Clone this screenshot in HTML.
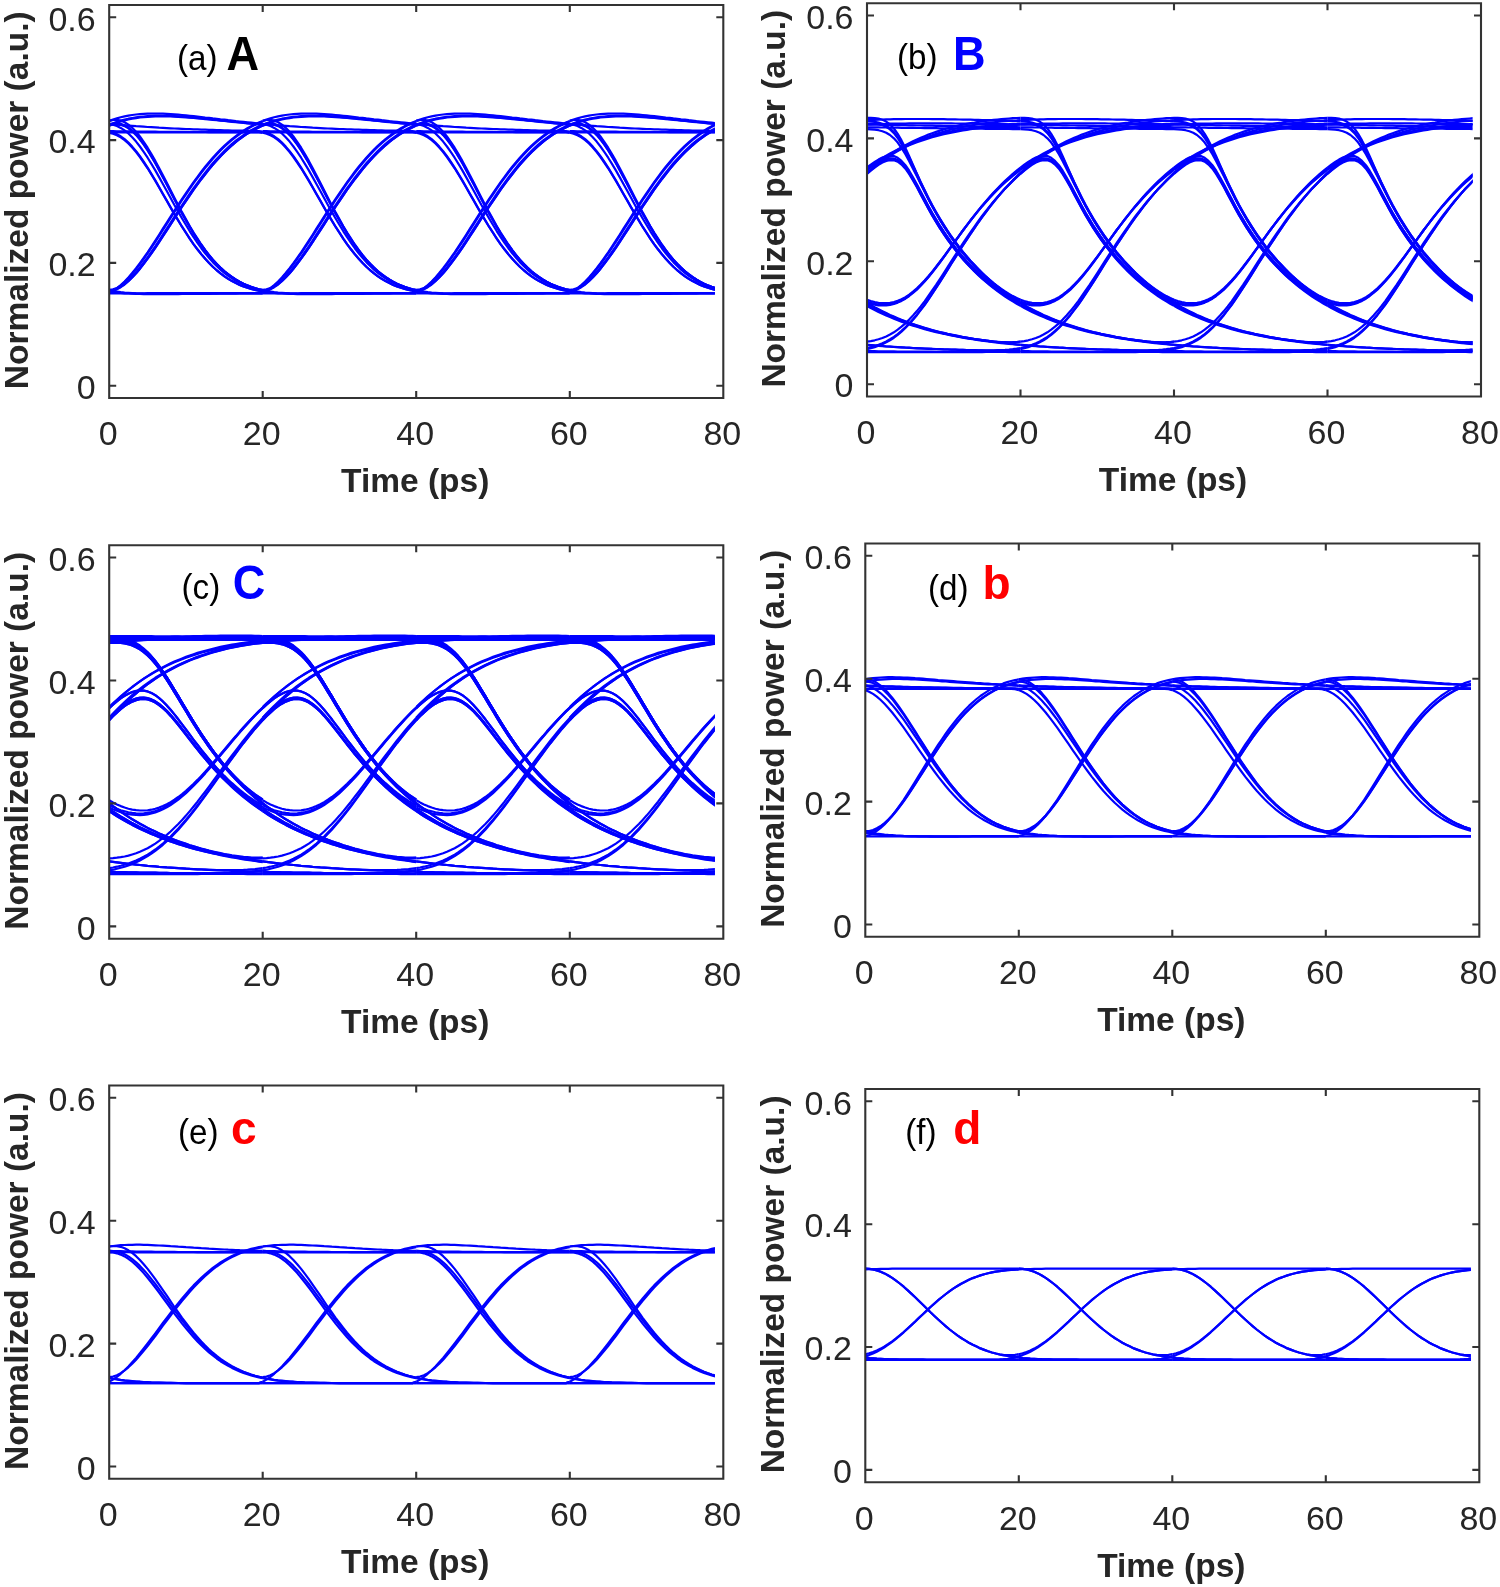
<!DOCTYPE html><html><head><meta charset="utf-8"><style>html,body{margin:0;padding:0;background:#fff;}svg{display:block;will-change:transform}text{font-family:"Liberation Sans",sans-serif}</style></head><body>
<svg width="1500" height="1587" viewBox="0 0 1500 1587">
<rect width="1500" height="1587" fill="#fff"/>
<defs><g id="seg_a"><path d="M0.0,132.8 3.8,133.7 7.7,135.3 11.5,137.4 15.4,140.2 19.2,143.5 23.0,147.5 26.9,152.0 30.7,157.0 34.5,162.5 38.4,168.3 42.2,174.5 46.1,180.9 49.9,187.5 53.7,194.2 57.6,200.9 61.4,207.6 65.2,214.2 69.1,220.7 72.9,227.0 76.8,233.0 80.6,238.8 84.4,244.3 88.3,249.5 92.1,254.3 96.0,258.8 99.8,263.0 103.6,266.8 107.5,270.3 111.3,273.4 115.1,276.3 119.0,278.9 122.8,281.1 126.7,283.1 130.5,284.9 134.3,286.5 138.2,287.8 142.0,289.0 145.8,289.9 149.7,290.8 153.5,291.5"/><path d="M0.0,291.5 3.8,292.1 7.7,292.6 11.5,293.0 15.4,293.3 19.2,293.5 23.0,293.7 26.9,293.9 30.7,294.0 34.5,294.1 38.4,294.1 42.2,294.2 46.1,294.2 49.9,294.2 53.7,294.2 57.6,294.2 61.4,294.1 65.2,294.1 69.1,294.1 72.9,294.0 76.8,294.0 80.6,294.0 84.4,293.9 88.3,293.9 92.1,293.8 96.0,293.8 99.8,293.8 103.6,293.7 107.5,293.7 111.3,293.7 115.1,293.6 119.0,293.6 122.8,293.6 126.7,293.6 130.5,293.5 134.3,293.5 138.2,293.5 142.0,293.5 145.8,293.4 149.7,293.4 153.5,293.4"/><path d="M0.0,293.4 3.8,293.4 7.7,293.4 11.5,293.3 15.4,293.3 19.2,293.3 23.0,293.3 26.9,293.3 30.7,293.3 34.5,293.3 38.4,293.2 42.2,293.2 46.1,293.2 49.9,293.2 53.7,293.2 57.6,293.2 61.4,293.2 65.2,293.2 69.1,293.2 72.9,293.2 76.8,293.2 80.6,293.1 84.4,293.1 88.3,293.1 92.1,293.1 96.0,293.1 99.8,293.1 103.6,293.1 107.5,293.1 111.3,293.1 115.1,293.1 119.0,293.1 122.8,293.1 126.7,293.1 130.5,293.1 134.3,293.1 138.2,293.1 142.0,293.1 145.8,293.1 149.7,293.1 153.5,293.1"/><path d="M0.0,292.4 3.8,290.6 7.7,288.1 11.5,285.0 15.4,281.5 19.2,277.4 23.0,273.0 26.9,268.2 30.7,263.2 34.5,257.8 38.4,252.3 42.2,246.6 46.1,240.7 49.9,234.8 53.7,228.7 57.6,222.7 61.4,216.6 65.2,210.6 69.1,204.7 72.9,198.8 76.8,193.1 80.6,187.5 84.4,182.1 88.3,176.8 92.1,171.7 96.0,166.8 99.8,162.2 103.6,157.7 107.5,153.5 111.3,149.5 115.1,145.8 119.0,142.3 122.8,139.0 126.7,136.0 130.5,133.2 134.3,130.6 138.2,128.2 142.0,126.1 145.8,124.2 149.7,122.4 153.5,120.9"/><path d="M0.0,120.9 3.8,120.0 7.7,119.9 11.5,120.6 15.4,122.2 19.2,124.6 23.0,127.8 26.9,131.8 30.7,136.5 34.5,141.8 38.4,147.7 42.2,154.1 46.1,160.9 49.9,168.0 53.7,175.3 57.6,182.8 61.4,190.3 65.2,197.8 69.1,205.2 72.9,212.4 76.8,219.4 80.6,226.2 84.4,232.6 88.3,238.7 92.1,244.5 96.0,249.9 99.8,254.9 103.6,259.5 107.5,263.7 111.3,267.6 115.1,271.1 119.0,274.2 122.8,277.0 126.7,279.5 130.5,281.7 134.3,283.7 138.2,285.4 142.0,286.8 145.8,288.1 149.7,289.2 153.5,290.1"/><path d="M0.0,290.1 3.8,290.9 7.7,291.5 11.5,292.1 15.4,292.5 19.2,292.8 23.0,293.1 26.9,293.4 30.7,293.5 34.5,293.7 38.4,293.8 42.2,293.8 46.1,293.9 49.9,293.9 53.7,293.9 57.6,293.9 61.4,293.9 65.2,293.9 69.1,293.9 72.9,293.9 76.8,293.8 80.6,293.8 84.4,293.8 88.3,293.7 92.1,293.7 96.0,293.7 99.8,293.6 103.6,293.6 107.5,293.6 111.3,293.5 115.1,293.5 119.0,293.5 122.8,293.5 126.7,293.4 130.5,293.4 134.3,293.4 138.2,293.4 142.0,293.4 145.8,293.3 149.7,293.3 153.5,293.3"/><path d="M0.0,120.9 3.8,119.6 7.7,118.4 11.5,117.3 15.4,116.4 19.2,115.7 23.0,115.0 26.9,114.5 30.7,114.1 34.5,113.9 38.4,113.7 42.2,113.6 46.1,113.6 49.9,113.6 53.7,113.7 57.6,113.9 61.4,114.1 65.2,114.4 69.1,114.7 72.9,115.0 76.8,115.4 80.6,115.8 84.4,116.2 88.3,116.6 92.1,117.0 96.0,117.5 99.8,117.9 103.6,118.4 107.5,118.8 111.3,119.3 115.1,119.7 119.0,120.2 122.8,120.6 126.7,121.1 130.5,121.5 134.3,121.9 138.2,122.3 142.0,122.7 145.8,123.1 149.7,123.5 153.5,123.9"/><path d="M0.0,123.9 3.8,124.6 7.7,126.0 11.5,127.9 15.4,130.4 19.2,133.5 23.0,137.3 26.9,141.6 30.7,146.5 34.5,151.9 38.4,157.7 42.2,163.9 46.1,170.4 49.9,177.1 53.7,184.0 57.6,191.0 61.4,198.0 65.2,205.0 69.1,211.9 72.9,218.5 76.8,225.0 80.6,231.3 84.4,237.2 88.3,242.9 92.1,248.2 96.0,253.2 99.8,257.8 103.6,262.1 107.5,266.0 111.3,269.6 115.1,272.9 119.0,275.8 122.8,278.4 126.7,280.7 130.5,282.8 134.3,284.6 138.2,286.2 142.0,287.6 145.8,288.7 149.7,289.8 153.5,290.6"/><path d="M0.0,292.8 3.8,291.1 7.7,288.7 11.5,285.7 15.4,282.1 19.2,278.2 23.0,273.8 26.9,269.1 30.7,264.1 34.5,258.8 38.4,253.3 42.2,247.6 46.1,241.8 49.9,235.9 53.7,229.9 57.6,223.8 61.4,217.8 65.2,211.8 69.1,205.9 72.9,200.0 76.8,194.3 80.6,188.7 84.4,183.2 88.3,177.9 92.1,172.8 96.0,167.9 99.8,163.2 103.6,158.8 107.5,154.5 111.3,150.5 115.1,146.8 119.0,143.2 122.8,140.0 126.7,136.9 130.5,134.1 134.3,131.4 138.2,129.1 142.0,126.9 145.8,124.9 149.7,123.1 153.5,121.6"/><path d="M0.0,289.8 3.8,289.4 7.7,288.1 11.5,286.0 15.4,283.3 19.2,280.0 23.0,276.3 26.9,272.1 30.7,267.5 34.5,262.5 38.4,257.3 42.2,251.9 46.1,246.3 49.9,240.5 53.7,234.7 57.6,228.7 61.4,222.8 65.2,216.8 69.1,210.9 72.9,205.0 76.8,199.3 80.6,193.6 84.4,188.1 88.3,182.8 92.1,177.6 96.0,172.6 99.8,167.9 103.6,163.3 107.5,159.0 111.3,154.9 115.1,151.0 119.0,147.3 122.8,143.9 126.7,140.7 130.5,137.8 134.3,135.1 138.2,132.6 142.0,130.3 145.8,128.2 149.7,126.3 153.5,124.6"/><path d="M0.0,124.6 3.8,123.6 7.7,123.3 11.5,123.9 15.4,125.3 19.2,127.5 23.0,130.6 26.9,134.4 30.7,139.0 34.5,144.1 38.4,149.9 42.2,156.1 46.1,162.8 49.9,169.7 53.7,176.9 57.6,184.2 61.4,191.6 65.2,199.0 69.1,206.3 72.9,213.4 76.8,220.3 80.6,226.9 84.4,233.3 88.3,239.3 92.1,245.0 96.0,250.4 99.8,255.3 103.6,259.9 107.5,264.1 111.3,267.9 115.1,271.3 119.0,274.4 122.8,277.2 126.7,279.7 130.5,281.9 134.3,283.8 138.2,285.5 142.0,287.0 145.8,288.2 149.7,289.3 153.5,290.2"/><path d="M0.0,123.9 3.8,124.3 7.7,124.6 11.5,125.0 15.4,125.3 19.2,125.6 23.0,125.9 26.9,126.2 30.7,126.4 34.5,126.7 38.4,127.0 42.2,127.2 46.1,127.4 49.9,127.7 53.7,127.9 57.6,128.1 61.4,128.3 65.2,128.5 69.1,128.6 72.9,128.8 76.8,129.0 80.6,129.1 84.4,129.3 88.3,129.4 92.1,129.6 96.0,129.7 99.8,129.8 103.6,129.9 107.5,130.1 111.3,130.2 115.1,130.3 119.0,130.4 122.8,130.5 126.7,130.6 130.5,130.6 134.3,130.7 138.2,130.8 142.0,130.9 145.8,130.9 149.7,131.0 153.5,131.5"/><path d="M0.0,131.5 3.8,132.5 7.7,134.1 11.5,136.3 15.4,139.1 19.2,142.6 23.0,146.6 26.9,151.1 30.7,156.2 34.5,161.7 38.4,167.6 42.2,173.9 46.1,180.3 49.9,187.0 53.7,193.7 57.6,200.5 61.4,207.2 65.2,213.9 69.1,220.4 72.9,226.7 76.8,232.7 80.6,238.6 84.4,244.1 88.3,249.3 92.1,254.1 96.0,258.7 99.8,262.8 103.6,266.7 107.5,270.2 111.3,273.4 115.1,276.2 119.0,278.8 122.8,281.1 126.7,283.1 130.5,284.9 134.3,286.4 138.2,287.8 142.0,288.9 145.8,289.9 149.7,290.8 153.5,291.2"/><path d="M0.0,291.2 3.8,290.6 7.7,289.2 11.5,287.2 15.4,284.5 19.2,281.2 23.0,277.5 26.9,273.3 30.7,268.7 34.5,263.9 38.4,258.7 42.2,253.3 46.1,247.7 49.9,242.0 53.7,236.1 57.6,230.2 61.4,224.3 65.2,218.3 69.1,212.4 72.9,206.5 76.8,200.8 80.6,195.1 84.4,189.6 88.3,184.2 92.1,179.1 96.0,174.1 99.8,169.3 103.6,164.7 107.5,160.3 111.3,156.2 115.1,152.3 119.0,148.6 122.8,145.1 126.7,141.9 130.5,138.9 134.3,136.2 138.2,133.6 142.0,131.3 145.8,129.2 149.7,127.3 153.5,125.6"/><path d="M0.0,125.6 3.8,124.5 7.7,124.2 11.5,124.7 15.4,126.1 19.2,128.3 23.0,131.3 26.9,135.1 30.7,139.6 34.5,144.7 38.4,150.4 42.2,156.6 46.1,163.2 49.9,170.2 53.7,177.3 57.6,184.6 61.4,191.9 65.2,199.3 69.1,206.5 72.9,213.6 76.8,220.5 80.6,227.1 84.4,233.5 88.3,239.5 92.1,245.2 96.0,250.5 99.8,255.4 103.6,260.0 107.5,264.1 111.3,267.9 115.1,271.4 119.0,274.5 122.8,277.3 126.7,279.8 130.5,281.9 134.3,283.9 138.2,285.5 142.0,287.0 145.8,288.2 149.7,289.3 153.5,289.9"/><path d="M0.0,124.7 3.8,123.2 7.7,121.8 11.5,120.6 15.4,119.6 19.2,118.7 23.0,118.0 26.9,117.4 30.7,116.9 34.5,116.5 38.4,116.2 42.2,116.0 46.1,115.8 49.9,115.8 53.7,115.8 57.6,115.9 61.4,116.0 65.2,116.2 69.1,116.4 72.9,116.7 76.8,117.0 80.6,117.3 84.4,117.6 88.3,118.0 92.1,118.4 96.0,118.7 99.8,119.1 103.6,119.5 107.5,119.9 111.3,120.3 115.1,120.7 119.0,121.2 122.8,121.5 126.7,121.9 130.5,122.3 134.3,122.7 138.2,123.1 142.0,123.4 145.8,123.8 149.7,124.1 153.5,124.5"/><path d="M0.0,290.3 3.8,289.9 7.7,288.7 11.5,286.7 15.4,284.1 19.2,281.0 23.0,277.3 26.9,273.2 30.7,268.7 34.5,263.8 38.4,258.7 42.2,253.4 46.1,247.8 49.9,242.1 53.7,236.2 57.6,230.3 61.4,224.4 65.2,218.4 69.1,212.5 72.9,206.7 76.8,200.9 80.6,195.3 84.4,189.7 88.3,184.4 92.1,179.2 96.0,174.2 99.8,169.4 103.6,164.8 107.5,160.4 111.3,156.3 115.1,152.4 119.0,148.7 122.8,145.3 126.7,142.0 130.5,139.0 134.3,136.3 138.2,133.7 142.0,131.4 145.8,129.3 149.7,127.4 153.5,125.6"/><path d="M0.0,125.6 3.8,124.1 7.7,122.7 11.5,121.5 15.4,120.4 19.2,119.5 23.0,118.7 26.9,118.1 30.7,117.5 34.5,117.1 38.4,116.8 42.2,116.6 46.1,116.4 49.9,116.3 53.7,116.3 57.6,116.4 61.4,116.5 65.2,116.7 69.1,116.9 72.9,117.1 76.8,117.4 80.6,117.7 84.4,118.0 88.3,118.3 92.1,118.7 96.0,119.1 99.8,119.4 103.6,119.8 107.5,120.2 111.3,120.6 115.1,121.0 119.0,121.4 122.8,121.8 126.7,122.2 130.5,122.5 134.3,122.9 138.2,123.3 142.0,123.6 145.8,124.0 149.7,124.3 153.5,124.6"/><path d="M0.0,131.2 3.8,131.2 7.7,131.3 11.5,131.4 15.4,131.4 19.2,131.4 23.0,131.5 26.9,131.5 30.7,131.6 34.5,131.6 38.4,131.7 42.2,131.7 46.1,131.7 49.9,131.8 53.7,131.8 57.6,131.8 61.4,131.8 65.2,131.9 69.1,131.9 72.9,131.9 76.8,131.9 80.6,132.0 84.4,132.0 88.3,132.0 92.1,132.0 96.0,132.0 99.8,132.1 103.6,132.1 107.5,132.1 111.3,132.1 115.1,132.1 119.0,132.1 122.8,132.1 126.7,132.2 130.5,132.2 134.3,132.2 138.2,132.2 142.0,132.2 145.8,132.2 149.7,132.2 153.5,132.2"/><path d="M0.0,132.2 3.8,132.2 7.7,132.3 11.5,132.3 15.4,132.3 19.2,132.3 23.0,132.3 26.9,132.3 30.7,132.3 34.5,132.3 38.4,132.3 42.2,132.3 46.1,132.3 49.9,132.3 53.7,132.3 57.6,132.3 61.4,132.3 65.2,132.3 69.1,132.3 72.9,132.3 76.8,132.3 80.6,132.4 84.4,132.4 88.3,132.4 92.1,132.4 96.0,132.4 99.8,132.4 103.6,132.4 107.5,132.4 111.3,132.4 115.1,132.4 119.0,132.4 122.8,132.4 126.7,132.4 130.5,132.4 134.3,132.4 138.2,132.4 142.0,132.4 145.8,132.4 149.7,132.4 153.5,132.8"/></g><clipPath id="clip_a"><rect x="109.2" y="5.0" width="605.7" height="393.0"/></clipPath><g id="seg_b"><path d="M0.0,129.2 3.8,129.4 7.7,129.7 11.5,130.2 15.4,131.2 19.2,132.7 23.0,135.0 26.9,138.3 30.7,142.6 34.5,148.0 38.4,154.2 42.2,161.2 46.0,168.7 49.9,176.3 53.7,184.0 57.6,191.6 61.4,198.9 65.2,206.0 69.1,212.7 72.9,219.1 76.8,225.3 80.6,231.1 84.4,236.7 88.3,242.0 92.1,247.1 95.9,251.9 99.8,256.5 103.6,260.9 107.5,265.1 111.3,269.1 115.1,273.0 119.0,276.6 122.8,280.1 126.6,283.4 130.5,286.6 134.3,289.6 138.1,292.5 142.0,295.2 145.8,297.8 149.7,300.3 153.5,302.7"/><path d="M0.0,302.7 3.8,305.0 7.7,307.2 11.5,309.2 15.4,311.2 19.2,313.1 23.0,314.9 26.9,316.6 30.7,318.2 34.5,319.8 38.4,321.3 42.2,322.7 46.0,324.1 49.9,325.4 53.7,326.6 57.6,327.8 61.4,328.9 65.2,330.0 69.1,331.0 72.9,332.0 76.8,332.9 80.6,333.8 84.4,334.6 88.3,335.4 92.1,336.2 95.9,337.0 99.8,337.7 103.6,338.3 107.5,339.0 111.3,339.6 115.1,340.2 119.0,340.7 122.8,341.2 126.6,341.7 130.5,342.2 134.3,342.7 138.1,343.1 142.0,343.5 145.8,343.9 149.7,344.3 153.5,344.7"/><path d="M0.0,344.7 3.8,345.0 7.7,345.4 11.5,345.7 15.4,346.0 19.2,346.3 23.0,346.5 26.9,346.8 30.7,347.1 34.5,347.3 38.4,347.5 42.2,347.7 46.0,348.0 49.9,348.1 53.7,348.3 57.6,348.5 61.4,348.7 65.2,348.9 69.1,349.0 72.9,349.2 76.8,349.3 80.6,349.4 84.4,349.6 88.3,349.7 92.1,349.8 95.9,349.9 99.8,350.0 103.6,350.1 107.5,350.2 111.3,350.3 115.1,350.4 119.0,350.5 122.8,350.6 126.6,350.6 130.5,350.7 134.3,350.8 138.1,350.9 142.0,350.9 145.8,351.0 149.7,351.0 153.5,351.1"/><path d="M0.0,351.1 3.8,351.2 7.7,351.2 11.5,351.3 15.4,351.3 19.2,351.3 23.0,351.4 26.9,351.4 30.7,351.5 34.5,351.5 38.4,351.5 42.2,351.6 46.0,351.6 49.9,351.6 53.7,351.7 57.6,351.7 61.4,351.7 65.2,351.7 69.1,351.8 72.9,351.8 76.8,351.8 80.6,351.8 84.4,351.8 88.3,351.9 92.1,351.9 95.9,351.9 99.8,351.9 103.6,351.9 107.5,351.9 111.3,352.0 115.1,352.0 119.0,352.0 122.8,352.0 126.6,352.0 130.5,352.0 134.3,352.0 138.1,352.0 142.0,352.1 145.8,352.1 149.7,352.1 153.5,352.1"/><path d="M0.0,352.1 3.8,352.1 7.7,352.1 11.5,352.1 15.4,352.1 19.2,352.1 23.0,352.1 26.9,352.1 30.7,352.1 34.5,352.1 38.4,352.1 42.2,352.1 46.0,352.2 49.9,352.2 53.7,352.2 57.6,352.2 61.4,352.2 65.2,352.2 69.1,352.2 72.9,352.2 76.8,352.2 80.6,352.2 84.4,352.2 88.3,352.2 92.1,352.2 95.9,352.2 99.8,352.2 103.6,352.2 107.5,352.1 111.3,352.1 115.1,352.1 119.0,352.0 122.8,351.9 126.6,351.8 130.5,351.7 134.3,351.5 138.1,351.2 142.0,350.9 145.8,350.4 149.7,349.8 153.5,349.1"/><path d="M0.0,349.1 3.8,348.2 7.7,347.1 11.5,345.8 15.4,344.2 19.2,342.3 23.0,340.2 26.9,337.7 30.7,334.8 34.5,331.6 38.4,328.0 42.2,324.1 46.0,319.8 49.9,315.2 53.7,310.2 57.6,305.0 61.4,299.6 65.2,293.9 69.1,288.0 72.9,282.1 76.8,276.0 80.6,269.9 84.4,263.7 88.3,257.6 92.1,251.5 95.9,245.5 99.8,239.6 103.6,233.8 107.5,228.1 111.3,222.5 115.1,217.2 119.0,212.0 122.8,206.9 126.6,202.0 130.5,197.4 134.3,192.8 138.1,188.5 142.0,184.4 145.8,180.4 149.7,176.6 153.5,172.9"/><path d="M0.0,172.9 3.8,169.5 7.7,166.4 11.5,163.5 15.4,161.1 19.2,159.3 23.0,158.3 26.9,158.5 30.7,160.0 34.5,163.0 38.4,167.3 42.2,172.9 46.0,179.4 49.9,186.5 53.7,193.9 57.6,201.3 61.4,208.5 65.2,215.4 69.1,222.0 72.9,228.2 76.8,234.1 80.6,239.7 84.4,244.9 88.3,249.9 92.1,254.7 95.9,259.2 99.8,263.5 103.6,267.5 107.5,271.4 111.3,275.1 115.1,278.6 119.0,281.9 122.8,285.1 126.6,288.2 130.5,291.1 134.3,293.8 138.1,296.5 142.0,299.0 145.8,301.4 149.7,303.7 153.5,305.9"/><path d="M0.0,305.9 3.8,308.0 7.7,310.0 11.5,311.9 15.4,313.7 19.2,315.5 23.0,317.1 26.9,318.7 30.7,320.2 34.5,321.7 38.4,323.0 42.2,324.4 46.0,325.6 49.9,326.8 53.7,328.0 57.6,329.1 61.4,330.1 65.2,331.1 69.1,332.1 72.9,333.0 76.8,333.8 80.6,334.7 84.4,335.5 88.3,336.2 92.1,337.0 95.9,337.6 99.8,338.3 103.6,338.9 107.5,339.5 111.3,340.1 115.1,340.7 119.0,341.2 122.8,341.7 126.6,342.2 130.5,342.6 134.3,343.1 138.1,343.5 142.0,343.9 145.8,344.2 149.7,344.6 153.5,345.0"/><path d="M0.0,345.0 3.8,345.3 7.7,345.6 11.5,345.9 15.4,346.2 19.2,346.5 23.0,346.7 26.9,347.0 30.7,347.2 34.5,347.4 38.4,347.7 42.2,347.9 46.0,348.1 49.9,348.3 53.7,348.4 57.6,348.6 61.4,348.8 65.2,348.9 69.1,349.1 72.9,349.2 76.8,349.4 80.6,349.5 84.4,349.6 88.3,349.7 92.1,349.8 95.9,349.9 99.8,350.0 103.6,350.1 107.5,350.2 111.3,350.3 115.1,350.3 119.0,350.3 122.8,350.3 126.6,350.3 130.5,350.2 134.3,350.1 138.1,349.9 142.0,349.6 145.8,349.2 149.7,348.7 153.5,348.0"/><path d="M0.0,348.0 3.8,347.2 7.7,346.1 11.5,344.8 15.4,343.3 19.2,341.5 23.0,339.3 26.9,336.9 30.7,334.0 34.5,330.9 38.4,327.3 42.2,323.4 46.0,319.2 49.9,314.6 53.7,309.7 57.6,304.5 61.4,299.0 65.2,293.4 69.1,287.6 72.9,281.6 76.8,275.6 80.6,269.5 84.4,263.3 88.3,257.2 92.1,251.2 95.9,245.2 99.8,239.3 103.6,233.5 107.5,227.9 111.3,222.4 115.1,217.0 119.0,211.8 122.8,206.8 126.6,202.0 130.5,197.3 134.3,192.9 138.1,188.6 142.0,184.4 145.8,180.5 149.7,176.7 153.5,173.1"/><path d="M0.0,173.1 3.8,169.7 7.7,166.4 11.5,163.2 15.4,160.3 19.2,157.4 23.0,154.7 26.9,152.2 30.7,149.8 34.5,147.5 38.4,145.3 42.2,143.3 46.0,141.3 49.9,139.5 53.7,137.8 57.6,136.2 61.4,134.6 65.2,133.2 69.1,131.9 72.9,130.6 76.8,129.4 80.6,128.3 84.4,127.3 88.3,126.3 92.1,125.4 95.9,124.6 99.8,123.8 103.6,123.1 107.5,122.5 111.3,121.8 115.1,121.3 119.0,120.8 122.8,120.3 126.6,119.9 130.5,119.5 134.3,119.1 138.1,118.8 142.0,118.5 145.8,118.2 149.7,118.0 153.5,117.9"/><path d="M0.0,117.9 3.8,117.9 7.7,118.1 11.5,118.6 15.4,119.7 19.2,121.6 23.0,124.4 26.9,128.5 30.7,133.8 34.5,140.4 38.4,148.0 42.2,156.2 46.0,164.9 49.9,173.6 53.7,182.2 57.6,190.5 61.4,198.4 65.2,205.9 69.1,213.0 72.9,219.7 76.8,226.0 80.6,232.0 84.4,237.7 88.3,243.1 92.1,248.2 95.9,253.0 99.8,257.7 103.6,262.1 107.5,266.2 111.3,270.2 115.1,274.0 119.0,277.6 122.8,281.1 126.6,284.3 130.5,287.5 134.3,290.4 138.1,293.3 142.0,296.0 145.8,298.6 149.7,301.0 153.5,303.4"/><path d="M0.0,303.4 3.8,305.6 7.7,307.8 11.5,309.8 15.4,311.8 19.2,313.6 23.0,315.4 26.9,317.1 30.7,318.7 34.5,320.2 38.4,321.7 42.2,323.1 46.0,324.4 49.9,325.7 53.7,326.9 57.6,328.1 61.4,329.2 65.2,330.2 69.1,331.3 72.9,332.2 76.8,333.1 80.6,334.0 84.4,334.8 88.3,335.6 92.1,336.4 95.9,337.1 99.8,337.8 103.6,338.4 107.5,339.1 111.3,339.6 115.1,340.2 119.0,340.7 122.8,341.1 126.6,341.5 130.5,341.8 134.3,342.1 138.1,342.2 142.0,342.3 145.8,342.2 149.7,342.0 153.5,341.7"/><path d="M0.0,341.7 3.8,341.1 7.7,340.3 11.5,339.3 15.4,338.0 19.2,336.4 23.0,334.5 26.9,332.3 30.7,329.7 34.5,326.7 38.4,323.3 42.2,319.6 46.0,315.5 49.9,311.1 53.7,306.4 57.6,301.3 61.4,296.0 65.2,290.5 69.1,284.9 72.9,279.0 76.8,273.1 80.6,267.2 84.4,261.2 88.3,255.2 92.1,249.3 95.9,243.4 99.8,237.7 103.6,232.1 107.5,226.6 111.3,221.2 115.1,216.0 119.0,211.0 122.8,206.2 126.6,201.5 130.5,197.1 134.3,192.7 138.1,188.6 142.0,184.7 145.8,180.9 149.7,177.3 153.5,173.8"/><path d="M0.0,173.8 3.8,170.6 7.7,167.6 11.5,164.9 15.4,162.6 19.2,160.9 23.0,160.1 26.9,160.3 30.7,161.7 34.5,164.5 38.4,168.7 42.2,174.1 46.0,180.4 49.9,187.3 53.7,194.5 57.6,201.7 61.4,208.7 65.2,215.5 69.1,222.0 72.9,228.1 76.8,234.0 80.6,239.5 84.4,244.7 88.3,249.7 92.1,254.4 95.9,258.9 99.8,263.2 103.6,267.2 107.5,271.1 111.3,274.7 115.1,278.2 119.0,281.5 122.8,284.6 126.6,287.6 130.5,290.3 134.3,292.9 138.1,295.3 142.0,297.4 145.8,299.4 149.7,301.1 153.5,302.6"/><path d="M0.0,302.6 3.8,303.8 7.7,304.7 11.5,305.3 15.4,305.5 19.2,305.4 23.0,304.9 26.9,304.0 30.7,302.6 34.5,300.9 38.4,298.7 42.2,296.0 46.0,293.0 49.9,289.6 53.7,285.8 57.6,281.6 61.4,277.2 65.2,272.5 69.1,267.6 72.9,262.5 76.8,257.2 80.6,251.9 84.4,246.6 88.3,241.2 92.1,235.8 95.9,230.5 99.8,225.3 103.6,220.2 107.5,215.2 111.3,210.3 115.1,205.6 119.0,201.1 122.8,196.7 126.6,192.4 130.5,188.4 134.3,184.5 138.1,180.7 142.0,177.2 145.8,173.8 149.7,170.6 153.5,167.5"/><path d="M0.0,167.5 3.8,164.6 7.7,162.0 11.5,159.6 15.4,157.6 19.2,156.3 23.0,155.7 26.9,156.1 30.7,157.8 34.5,160.9 38.4,165.2 42.2,170.7 46.0,177.2 49.9,184.2 53.7,191.5 57.6,198.8 61.4,205.9 65.2,212.8 69.1,219.4 72.9,225.7 76.8,231.6 80.6,237.2 84.4,242.6 88.3,247.6 92.1,252.4 95.9,257.0 99.8,261.4 103.6,265.5 107.5,269.5 111.3,273.2 115.1,276.8 119.0,280.2 122.8,283.5 126.6,286.6 130.5,289.6 134.3,292.4 138.1,295.1 142.0,297.7 145.8,300.2 149.7,302.5 153.5,304.8"/><path d="M0.0,304.8 3.8,306.9 7.7,308.9 11.5,310.9 15.4,312.8 19.2,314.5 23.0,316.2 26.9,317.9 30.7,319.4 34.5,320.9 38.4,322.3 42.2,323.7 46.0,325.0 49.9,326.2 53.7,327.4 57.6,328.5 61.4,329.6 65.2,330.6 69.1,331.6 72.9,332.5 76.8,333.4 80.6,334.2 84.4,335.1 88.3,335.8 92.1,336.6 95.9,337.3 99.8,337.9 103.6,338.6 107.5,339.2 111.3,339.7 115.1,340.2 119.0,340.7 122.8,341.2 126.6,341.5 130.5,341.9 134.3,342.1 138.1,342.3 142.0,342.3 145.8,342.2 149.7,342.0 153.5,341.7"/><path d="M0.0,173.5 3.8,170.1 7.7,167.0 11.5,164.0 15.4,161.1 19.2,158.4 23.0,155.8 26.9,153.4 30.7,151.1 34.5,148.9 38.4,146.8 42.2,144.8 46.0,143.0 49.9,141.2 53.7,139.6 57.6,138.0 61.4,136.6 65.2,135.2 69.1,133.9 72.9,132.7 76.8,131.6 80.6,130.5 84.4,129.5 88.3,128.6 92.1,127.7 95.9,126.9 99.8,126.2 103.6,125.5 107.5,124.8 111.3,124.2 115.1,123.7 119.0,123.2 122.8,122.7 126.6,122.3 130.5,121.9 134.3,121.5 138.1,121.2 142.0,120.9 145.8,120.6 149.7,120.4 153.5,120.1"/><path d="M0.0,120.1 3.8,119.9 7.7,119.8 11.5,119.6 15.4,119.5 19.2,119.4 23.0,119.3 26.9,119.2 30.7,119.1 34.5,119.1 38.4,119.0 42.2,119.0 46.0,119.0 49.9,119.0 53.7,119.0 57.6,119.0 61.4,119.0 65.2,119.1 69.1,119.1 72.9,119.2 76.8,119.2 80.6,119.3 84.4,119.3 88.3,119.4 92.1,119.5 95.9,119.6 99.8,119.6 103.6,119.7 107.5,119.8 111.3,119.9 115.1,120.0 119.0,120.1 122.8,120.2 126.6,120.3 130.5,120.4 134.3,120.5 138.1,120.6 142.0,120.7 145.8,120.9 149.7,121.0 153.5,121.2"/><path d="M0.0,121.2 3.8,121.4 7.7,121.9 11.5,122.6 15.4,123.7 19.2,125.6 23.0,128.3 26.9,132.0 30.7,137.0 34.5,143.0 38.4,149.9 42.2,157.6 46.0,165.7 49.9,173.9 53.7,182.1 57.6,190.1 61.4,197.7 65.2,205.0 69.1,212.0 72.9,218.6 76.8,224.9 80.6,230.8 84.4,236.5 88.3,241.9 92.1,247.0 95.9,251.9 99.8,256.5 103.6,260.9 107.5,265.1 111.3,269.1 115.1,272.9 119.0,276.5 122.8,279.9 126.6,283.1 130.5,286.1 134.3,288.9 138.1,291.5 142.0,293.9 145.8,296.1 149.7,298.0 153.5,299.7"/><path d="M0.0,299.7 3.8,301.0 7.7,302.1 11.5,302.8 15.4,303.2 19.2,303.2 23.0,302.9 26.9,302.1 30.7,300.8 34.5,299.2 38.4,297.1 42.2,294.6 46.0,291.6 49.9,288.3 53.7,284.6 57.6,280.5 61.4,276.2 65.2,271.6 69.1,266.7 72.9,261.7 76.8,256.6 80.6,251.4 84.4,246.2 88.3,240.9 92.1,235.7 95.9,230.5 99.8,225.4 103.6,220.5 107.5,215.6 111.3,210.9 115.1,206.4 119.0,202.0 122.8,197.7 126.6,193.7 130.5,189.8 134.3,186.0 138.1,182.5 142.0,179.1 145.8,175.8 149.7,172.8 153.5,169.8"/><path d="M0.0,169.8 3.8,167.1 7.7,164.6 11.5,162.3 15.4,160.4 19.2,159.1 23.0,158.5 26.9,158.9 30.7,160.5 34.5,163.4 38.4,167.5 42.2,172.7 46.0,178.9 49.9,185.6 53.7,192.7 57.6,199.7 61.4,206.7 65.2,213.5 69.1,219.9 72.9,226.1 76.8,231.9 80.6,237.5 84.4,242.8 88.3,247.8 92.1,252.5 95.9,257.1 99.8,261.4 103.6,265.5 107.5,269.4 111.3,273.2 115.1,276.7 119.0,280.1 122.8,283.2 126.6,286.2 130.5,289.0 134.3,291.7 138.1,294.1 142.0,296.3 145.8,298.3 149.7,300.1 153.5,301.6"/><path d="M0.0,301.6 3.8,302.9 7.7,303.8 11.5,304.5 15.4,304.7 19.2,304.6 23.0,304.2 26.9,303.3 30.7,302.0 34.5,300.2 38.4,298.1 42.2,295.5 46.0,292.5 49.9,289.0 53.7,285.3 57.6,281.2 61.4,276.8 65.2,272.1 69.1,267.2 72.9,262.2 76.8,257.0 80.6,251.7 84.4,246.4 88.3,241.1 92.1,235.8 95.9,230.5 99.8,225.4 103.6,220.3 107.5,215.4 111.3,210.6 115.1,206.0 119.0,201.5 122.8,197.2 126.6,193.1 130.5,189.1 134.3,185.3 138.1,181.6 142.0,178.1 145.8,174.8 149.7,171.7 153.5,168.7"/><path d="M0.0,168.7 3.8,165.8 7.7,163.1 11.5,160.5 15.4,158.0 19.2,155.7 23.0,153.5 26.9,151.4 30.7,149.5 34.5,147.6 38.4,145.8 42.2,144.2 46.0,142.6 49.9,141.1 53.7,139.8 57.6,138.4 61.4,137.2 65.2,136.1 69.1,135.0 72.9,134.0 76.8,133.0 80.6,132.1 84.4,131.3 88.3,130.5 92.1,129.8 95.9,129.1 99.8,128.5 103.6,127.9 107.5,127.4 111.3,126.9 115.1,126.4 119.0,126.0 122.8,125.6 126.6,125.2 130.5,124.9 134.3,124.6 138.1,124.3 142.0,124.1 145.8,123.8 149.7,123.7 153.5,123.5"/><path d="M0.0,123.5 3.8,123.5 7.7,123.7 11.5,124.2 15.4,125.2 19.2,126.8 23.0,129.4 26.9,133.1 30.7,138.0 34.5,144.1 38.4,151.1 42.2,158.8 46.0,166.9 49.9,175.2 53.7,183.4 57.6,191.4 61.4,199.0 65.2,206.3 69.1,213.3 72.9,219.8 76.8,226.1 80.6,232.0 84.4,237.6 88.3,242.9 92.1,248.0 95.9,252.8 99.8,257.4 103.6,261.8 107.5,266.0 111.3,269.9 115.1,273.7 119.0,277.2 122.8,280.6 126.6,283.7 130.5,286.7 134.3,289.5 138.1,292.1 142.0,294.4 145.8,296.6 149.7,298.5 153.5,300.1"/><path d="M0.0,169.4 3.8,166.6 7.7,163.9 11.5,161.4 15.4,159.0 19.2,156.7 23.0,154.5 26.9,152.5 30.7,150.5 34.5,148.7 38.4,146.9 42.2,145.3 46.0,143.8 49.9,142.3 53.7,140.9 57.6,139.6 61.4,138.4 65.2,137.3 69.1,136.2 72.9,135.2 76.8,134.3 80.6,133.4 84.4,132.6 88.3,131.8 92.1,131.1 95.9,130.4 99.8,129.8 103.6,129.2 107.5,128.6 111.3,128.1 115.1,127.7 119.0,127.2 122.8,126.8 126.6,126.4 130.5,126.1 134.3,125.8 138.1,125.5 142.0,125.2 145.8,125.0 149.7,124.8 153.5,124.6"/><path d="M0.0,124.6 3.8,124.4 7.7,124.2 11.5,124.1 15.4,124.0 19.2,123.8 23.0,123.7 26.9,123.7 30.7,123.6 34.5,123.5 38.4,123.5 42.2,123.4 46.0,123.4 49.9,123.4 53.7,123.3 57.6,123.3 61.4,123.3 65.2,123.3 69.1,123.4 72.9,123.4 76.8,123.4 80.6,123.4 84.4,123.4 88.3,123.5 92.1,123.5 95.9,123.6 99.8,123.6 103.6,123.7 107.5,123.7 111.3,123.8 115.1,123.8 119.0,123.9 122.8,123.9 126.6,124.0 130.5,124.1 134.3,124.1 138.1,124.2 142.0,124.3 145.8,124.3 149.7,124.4 153.5,124.5"/><path d="M0.0,124.5 3.8,124.6 7.7,124.6 11.5,124.7 15.4,124.8 19.2,124.9 23.0,124.9 26.9,125.0 30.7,125.1 34.5,125.2 38.4,125.2 42.2,125.3 46.0,125.4 49.9,125.5 53.7,125.5 57.6,125.6 61.4,125.7 65.2,125.7 69.1,125.8 72.9,125.9 76.8,126.0 80.6,126.0 84.4,126.1 88.3,126.2 92.1,126.2 95.9,126.3 99.8,126.4 103.6,126.4 107.5,126.5 111.3,126.6 115.1,126.6 119.0,126.7 122.8,126.8 126.6,126.8 130.5,126.9 134.3,127.0 138.1,127.0 142.0,127.1 145.8,127.1 149.7,127.2 153.5,127.3"/><path d="M0.0,127.3 3.8,127.3 7.7,127.4 11.5,127.4 15.4,127.5 19.2,127.5 23.0,127.6 26.9,127.7 30.7,127.7 34.5,127.8 38.4,127.8 42.2,127.9 46.0,127.9 49.9,128.0 53.7,128.0 57.6,128.1 61.4,128.1 65.2,128.2 69.1,128.2 72.9,128.3 76.8,128.3 80.6,128.4 84.4,128.4 88.3,128.4 92.1,128.5 95.9,128.5 99.8,128.6 103.6,128.6 107.5,128.7 111.3,128.7 115.1,128.7 119.0,128.8 122.8,128.8 126.6,128.9 130.5,128.9 134.3,128.9 138.1,129.0 142.0,129.0 145.8,129.1 149.7,129.1 153.5,129.2"/></g><clipPath id="clip_b"><rect x="867.0" y="3.2" width="605.6" height="393.3"/></clipPath><g id="seg_c"><path d="M0.0,640.5 3.8,640.7 7.7,641.1 11.5,641.6 15.4,642.4 19.2,643.4 23.0,644.7 26.9,646.5 30.7,648.6 34.5,651.3 38.4,654.5 42.2,658.2 46.1,662.4 49.9,667.1 53.7,672.3 57.6,677.9 61.4,683.9 65.2,690.0 69.1,696.4 72.9,702.8 76.8,709.2 80.6,715.6 84.4,721.9 88.3,728.0 92.1,733.9 96.0,739.7 99.8,745.2 103.6,750.6 107.5,755.7 111.3,760.7 115.1,765.4 119.0,770.0 122.8,774.3 126.7,778.5 130.5,782.5 134.3,786.3 138.2,790.0 142.0,793.5 145.8,796.9 149.7,800.1 153.5,803.2"/><path d="M0.0,803.2 3.8,806.2 7.7,809.0 11.5,811.7 15.4,814.3 19.2,816.8 23.0,819.2 26.9,821.5 30.7,823.7 34.5,825.8 38.4,827.9 42.2,829.8 46.1,831.6 49.9,833.4 53.7,835.1 57.6,836.8 61.4,838.3 65.2,839.8 69.1,841.3 72.9,842.6 76.8,843.9 80.6,845.2 84.4,846.4 88.3,847.6 92.1,848.7 96.0,849.7 99.8,850.8 103.6,851.7 107.5,852.7 111.3,853.6 115.1,854.4 119.0,855.3 122.8,856.1 126.7,856.8 130.5,857.5 134.3,858.2 138.2,858.9 142.0,859.5 145.8,860.1 149.7,860.7 153.5,861.3"/><path d="M0.0,861.3 3.8,861.8 7.7,862.3 11.5,862.8 15.4,863.3 19.2,863.8 23.0,864.2 26.9,864.6 30.7,865.0 34.5,865.4 38.4,865.8 42.2,866.1 46.1,866.4 49.9,866.8 53.7,867.1 57.6,867.4 61.4,867.6 65.2,867.9 69.1,868.2 72.9,868.4 76.8,868.7 80.6,868.9 84.4,869.1 88.3,869.3 92.1,869.5 96.0,869.7 99.8,869.9 103.6,870.1 107.5,870.3 111.3,870.4 115.1,870.6 119.0,870.7 122.8,870.9 126.7,871.0 130.5,871.1 134.3,871.3 138.2,871.4 142.0,871.5 145.8,871.6 149.7,871.7 153.5,871.8"/><path d="M0.0,871.8 3.8,871.9 7.7,872.0 11.5,872.1 15.4,872.2 19.2,872.3 23.0,872.3 26.9,872.4 30.7,872.5 34.5,872.6 38.4,872.6 42.2,872.7 46.1,872.7 49.9,872.8 53.7,872.9 57.6,872.9 61.4,873.0 65.2,873.0 69.1,873.1 72.9,873.1 76.8,873.1 80.6,873.2 84.4,873.2 88.3,873.3 92.1,873.3 96.0,873.3 99.8,873.4 103.6,873.4 107.5,873.4 111.3,873.5 115.1,873.5 119.0,873.5 122.8,873.5 126.7,873.6 130.5,873.6 134.3,873.6 138.2,873.6 142.0,873.7 145.8,873.7 149.7,873.7 153.5,873.7"/><path d="M0.0,873.7 3.8,873.7 7.7,873.8 11.5,873.8 15.4,873.8 19.2,873.8 23.0,873.8 26.9,873.8 30.7,873.8 34.5,873.9 38.4,873.9 42.2,873.9 46.1,873.9 49.9,873.9 53.7,873.9 57.6,873.9 61.4,873.9 65.2,873.9 69.1,873.9 72.9,874.0 76.8,874.0 80.6,874.0 84.4,874.0 88.3,874.0 92.1,874.0 96.0,874.0 99.8,874.0 103.6,874.0 107.5,874.0 111.3,874.0 115.1,874.0 119.0,874.0 122.8,874.0 126.7,874.0 130.5,874.0 134.3,874.0 138.2,874.1 142.0,874.1 145.8,874.1 149.7,874.1 153.5,874.1"/><path d="M0.0,874.1 3.8,874.1 7.7,874.1 11.5,874.1 15.4,874.1 19.2,874.1 23.0,874.1 26.9,874.1 30.7,874.1 34.5,874.1 38.4,874.1 42.2,874.1 46.1,874.1 49.9,874.1 53.7,874.1 57.6,874.1 61.4,874.1 65.2,874.1 69.1,874.1 72.9,874.1 76.8,874.1 80.6,874.1 84.4,874.1 88.3,874.1 92.1,874.0 96.0,874.0 99.8,874.0 103.6,873.9 107.5,873.9 111.3,873.8 115.1,873.7 119.0,873.6 122.8,873.4 126.7,873.3 130.5,873.0 134.3,872.8 138.2,872.5 142.0,872.1 145.8,871.6 149.7,871.1 153.5,870.4"/><path d="M0.0,870.4 3.8,869.7 7.7,868.8 11.5,867.8 15.4,866.7 19.2,865.4 23.0,863.9 26.9,862.3 30.7,860.4 34.5,858.4 38.4,856.1 42.2,853.6 46.1,850.9 49.9,847.9 53.7,844.8 57.6,841.3 61.4,837.7 65.2,833.8 69.1,829.7 72.9,825.3 76.8,820.8 80.6,816.1 84.4,811.3 88.3,806.3 92.1,801.2 96.0,795.9 99.8,790.6 103.6,785.3 107.5,779.9 111.3,774.5 115.1,769.2 119.0,763.8 122.8,758.5 126.7,753.3 130.5,748.2 134.3,743.2 138.2,738.3 142.0,733.5 145.8,728.9 149.7,724.5 153.5,720.3"/><path d="M0.0,720.3 3.8,716.3 7.7,712.6 11.5,709.2 15.4,706.2 19.2,703.7 23.0,701.6 26.9,700.1 30.7,699.2 34.5,699.0 38.4,699.5 42.2,700.6 46.1,702.5 49.9,705.1 53.7,708.2 57.6,711.8 61.4,715.9 65.2,720.4 69.1,725.0 72.9,729.9 76.8,734.8 80.6,739.8 84.4,744.7 88.3,749.5 92.1,754.3 96.0,758.9 99.8,763.4 103.6,767.7 107.5,771.9 111.3,775.9 115.1,779.8 119.0,783.5 122.8,787.1 126.7,790.6 130.5,793.9 134.3,797.1 138.2,800.1 142.0,803.1 145.8,805.9 149.7,808.6 153.5,811.2"/><path d="M0.0,811.2 3.8,813.7 7.7,816.2 11.5,818.5 15.4,820.7 19.2,822.8 23.0,824.9 26.9,826.9 30.7,828.8 34.5,830.6 38.4,832.3 42.2,834.0 46.1,835.6 49.9,837.2 53.7,838.7 57.6,840.1 61.4,841.5 65.2,842.8 69.1,844.1 72.9,845.3 76.8,846.4 80.6,847.6 84.4,848.6 88.3,849.7 92.1,850.7 96.0,851.6 99.8,852.5 103.6,853.4 107.5,854.3 111.3,855.1 115.1,855.8 119.0,856.6 122.8,857.3 126.7,858.0 130.5,858.6 134.3,859.3 138.2,859.9 142.0,860.5 145.8,861.0 149.7,861.6 153.5,862.1"/><path d="M0.0,719.9 3.8,715.6 7.7,711.5 11.5,707.6 15.4,703.8 19.2,700.2 23.0,696.7 26.9,693.3 30.7,690.1 34.5,687.1 38.4,684.2 42.2,681.4 46.1,678.7 49.9,676.2 53.7,673.8 57.6,671.5 61.4,669.3 65.2,667.3 69.1,665.3 72.9,663.4 76.8,661.7 80.6,660.0 84.4,658.4 88.3,656.9 92.1,655.5 96.0,654.2 99.8,652.9 103.6,651.7 107.5,650.6 111.3,649.6 115.1,648.6 119.0,647.6 122.8,646.8 126.7,645.9 130.5,645.2 134.3,644.5 138.2,643.8 142.0,643.2 145.8,642.7 149.7,642.2 153.5,641.9"/><path d="M0.0,641.9 3.8,641.7 7.7,641.7 11.5,642.0 15.4,642.5 19.2,643.3 23.0,644.6 26.9,646.3 30.7,648.6 34.5,651.4 38.4,654.8 42.2,658.8 46.1,663.3 49.9,668.4 53.7,673.8 57.6,679.6 61.4,685.7 65.2,692.0 69.1,698.4 72.9,704.9 76.8,711.3 80.6,717.6 84.4,723.9 88.3,729.9 92.1,735.8 96.0,741.5 99.8,747.0 103.6,752.2 107.5,757.3 111.3,762.1 115.1,766.8 119.0,771.3 122.8,775.6 126.7,779.7 130.5,783.6 134.3,787.4 138.2,791.0 142.0,794.4 145.8,797.8 149.7,800.9 153.5,804.0"/><path d="M0.0,871.8 3.8,871.9 7.7,872.0 11.5,872.1 15.4,872.2 19.2,872.3 23.0,872.3 26.9,872.4 30.7,872.5 34.5,872.6 38.4,872.6 42.2,872.7 46.1,872.7 49.9,872.8 53.7,872.9 57.6,872.9 61.4,873.0 65.2,873.0 69.1,873.0 72.9,873.1 76.8,873.1 80.6,873.2 84.4,873.2 88.3,873.2 92.1,873.2 96.0,873.2 99.8,873.2 103.6,873.2 107.5,873.2 111.3,873.1 115.1,873.1 119.0,873.0 122.8,872.8 126.7,872.7 130.5,872.5 134.3,872.3 138.2,872.0 142.0,871.6 145.8,871.2 149.7,870.6 153.5,870.0"/><path d="M0.0,720.3 3.8,716.3 7.7,712.6 11.5,709.2 15.4,706.2 19.2,703.7 23.0,701.6 26.9,700.1 30.7,699.2 34.5,699.0 38.4,699.5 42.2,700.7 46.1,702.5 49.9,705.1 53.7,708.2 57.6,711.8 61.4,715.9 65.2,720.3 69.1,725.0 72.9,729.8 76.8,734.8 80.6,739.7 84.4,744.6 88.3,749.4 92.1,754.2 96.0,758.8 99.8,763.2 103.6,767.5 107.5,771.6 111.3,775.6 115.1,779.3 119.0,782.9 122.8,786.4 126.7,789.7 130.5,792.8 134.3,795.7 138.2,798.4 142.0,801.0 145.8,803.4 149.7,805.5 153.5,807.5"/><path d="M0.0,807.5 3.8,809.3 7.7,810.8 11.5,812.2 15.4,813.3 19.2,814.1 23.0,814.7 26.9,815.0 30.7,815.1 34.5,814.8 38.4,814.3 42.2,813.5 46.1,812.4 49.9,811.0 53.7,809.3 57.6,807.3 61.4,805.0 65.2,802.4 69.1,799.6 72.9,796.5 76.8,793.1 80.6,789.5 84.4,785.8 88.3,781.8 92.1,777.7 96.0,773.4 99.8,769.0 103.6,764.5 107.5,760.0 111.3,755.4 115.1,750.8 119.0,746.2 122.8,741.6 126.7,737.1 130.5,732.6 134.3,728.2 138.2,723.9 142.0,719.7 145.8,715.7 149.7,711.8 153.5,708.1"/><path d="M0.0,708.1 3.8,704.6 7.7,701.3 11.5,698.4 15.4,695.8 19.2,693.7 23.0,692.0 26.9,690.9 30.7,690.4 34.5,690.6 38.4,691.4 42.2,692.9 46.1,695.1 49.9,698.0 53.7,701.4 57.6,705.4 61.4,709.7 65.2,714.4 69.1,719.3 72.9,724.4 76.8,729.6 80.6,734.7 84.4,739.9 88.3,744.9 92.1,749.9 96.0,754.7 99.8,759.3 103.6,763.8 107.5,768.2 111.3,772.3 115.1,776.4 119.0,780.2 122.8,783.9 126.7,787.5 130.5,791.0 134.3,794.3 138.2,797.5 142.0,800.5 145.8,803.4 149.7,806.3 153.5,809.0"/><path d="M0.0,809.0 3.8,811.6 7.7,814.1 11.5,816.5 15.4,818.8 19.2,821.0 23.0,823.1 26.9,825.2 30.7,827.2 34.5,829.0 38.4,830.9 42.2,832.6 46.1,834.3 49.9,835.9 53.7,837.4 57.6,838.9 61.4,840.3 65.2,841.7 69.1,843.0 72.9,844.3 76.8,845.5 80.6,846.6 84.4,847.8 88.3,848.8 92.1,849.8 96.0,850.8 99.8,851.8 103.6,852.7 107.5,853.6 111.3,854.4 115.1,855.2 119.0,856.0 122.8,856.7 126.7,857.4 130.5,858.1 134.3,858.8 138.2,859.4 142.0,860.0 145.8,860.6 149.7,861.1 153.5,861.7"/><path d="M0.0,641.8 3.8,641.3 7.7,640.8 11.5,640.4 15.4,640.0 19.2,639.6 23.0,639.2 26.9,638.9 30.7,638.6 34.5,638.3 38.4,638.1 42.2,637.8 46.1,637.6 49.9,637.4 53.7,637.2 57.6,637.0 61.4,636.9 65.2,636.7 69.1,636.6 72.9,636.5 76.8,636.4 80.6,636.3 84.4,636.2 88.3,636.1 92.1,636.0 96.0,635.9 99.8,635.9 103.6,635.8 107.5,635.8 111.3,635.7 115.1,635.7 119.0,635.7 122.8,635.7 126.7,635.6 130.5,635.6 134.3,635.6 138.2,635.7 142.0,635.7 145.8,635.8 149.7,635.9 153.5,636.1"/><path d="M0.0,636.1 3.8,636.4 7.7,636.9 11.5,637.5 15.4,638.4 19.2,639.6 23.0,641.1 26.9,643.1 30.7,645.5 34.5,648.5 38.4,652.0 42.2,656.1 46.1,660.7 49.9,665.8 53.7,671.3 57.6,677.2 61.4,683.3 65.2,689.7 69.1,696.1 72.9,702.7 76.8,709.2 80.6,715.6 84.4,721.9 88.3,728.1 92.1,734.0 96.0,739.8 99.8,745.4 103.6,750.7 107.5,755.9 111.3,760.8 115.1,765.5 119.0,770.1 122.8,774.4 126.7,778.6 130.5,782.6 134.3,786.4 138.2,790.1 142.0,793.6 145.8,797.0 149.7,800.2 153.5,803.3"/><path d="M0.0,861.3 3.8,861.8 7.7,862.3 11.5,862.8 15.4,863.3 19.2,863.8 23.0,864.2 26.9,864.6 30.7,865.0 34.5,865.4 38.4,865.8 42.2,866.1 46.1,866.4 49.9,866.8 53.7,867.1 57.6,867.4 61.4,867.6 65.2,867.9 69.1,868.2 72.9,868.4 76.8,868.6 80.6,868.9 84.4,869.1 88.3,869.3 92.1,869.4 96.0,869.6 99.8,869.8 103.6,869.9 107.5,870.0 111.3,870.1 115.1,870.1 119.0,870.2 122.8,870.2 126.7,870.1 130.5,870.0 134.3,869.9 138.2,869.7 142.0,869.4 145.8,869.1 149.7,868.6 153.5,868.1"/><path d="M0.0,868.1 3.8,867.5 7.7,866.7 11.5,865.8 15.4,864.7 19.2,863.5 23.0,862.1 26.9,860.6 30.7,858.8 34.5,856.8 38.4,854.6 42.2,852.2 46.1,849.5 49.9,846.6 53.7,843.5 57.6,840.1 61.4,836.5 65.2,832.6 69.1,828.6 72.9,824.3 76.8,819.8 80.6,815.2 84.4,810.4 88.3,805.4 92.1,800.3 96.0,795.1 99.8,789.9 103.6,784.6 107.5,779.2 111.3,773.9 115.1,768.5 119.0,763.2 122.8,758.0 126.7,752.8 130.5,747.7 134.3,742.7 138.2,737.8 142.0,733.1 145.8,728.5 149.7,724.1 153.5,720.0"/><path d="M0.0,811.2 3.8,813.7 7.7,816.1 11.5,818.4 15.4,820.6 19.2,822.8 23.0,824.8 26.9,826.8 30.7,828.7 34.5,830.5 38.4,832.3 42.2,834.0 46.1,835.6 49.9,837.1 53.7,838.6 57.6,840.1 61.4,841.4 65.2,842.7 69.1,844.0 72.9,845.2 76.8,846.4 80.6,847.5 84.4,848.6 88.3,849.6 92.1,850.5 96.0,851.5 99.8,852.4 103.6,853.2 107.5,854.0 111.3,854.7 115.1,855.4 119.0,856.0 122.8,856.6 126.7,857.1 130.5,857.5 134.3,857.9 138.2,858.2 142.0,858.4 145.8,858.5 149.7,858.5 153.5,858.4"/><path d="M0.0,858.4 3.8,858.1 7.7,857.7 11.5,857.2 15.4,856.5 19.2,855.6 23.0,854.5 26.9,853.3 30.7,851.8 34.5,850.1 38.4,848.2 42.2,846.0 46.1,843.6 49.9,840.9 53.7,838.0 57.6,834.9 61.4,831.5 65.2,827.8 69.1,824.0 72.9,819.9 76.8,815.6 80.6,811.1 84.4,806.5 88.3,801.7 92.1,796.7 96.0,791.7 99.8,786.6 103.6,781.4 107.5,776.2 111.3,770.9 115.1,765.7 119.0,760.5 122.8,755.4 126.7,750.3 130.5,745.3 134.3,740.4 138.2,735.6 142.0,731.0 145.8,726.5 149.7,722.2 153.5,718.1"/><path d="M0.0,718.1 3.8,714.2 7.7,710.6 11.5,707.3 15.4,704.4 19.2,701.9 23.0,700.0 26.9,698.5 30.7,697.7 34.5,697.6 38.4,698.1 42.2,699.4 46.1,701.3 49.9,703.9 53.7,707.0 57.6,710.7 61.4,714.8 65.2,719.3 69.1,724.0 72.9,728.9 76.8,733.9 80.6,738.8 84.4,743.8 88.3,748.7 92.1,753.5 96.0,758.1 99.8,762.6 103.6,767.0 107.5,771.2 111.3,775.3 115.1,779.2 119.0,782.9 122.8,786.5 126.7,790.0 130.5,793.3 134.3,796.5 138.2,799.6 142.0,802.6 145.8,805.4 149.7,808.2 153.5,810.8"/><path d="M0.0,707.6 3.8,703.9 7.7,700.2 11.5,696.8 15.4,693.4 19.2,690.2 23.0,687.1 26.9,684.2 30.7,681.4 34.5,678.7 38.4,676.1 42.2,673.7 46.1,671.4 49.9,669.2 53.7,667.2 57.6,665.2 61.4,663.3 65.2,661.6 69.1,659.9 72.9,658.4 76.8,656.9 80.6,655.5 84.4,654.2 88.3,652.9 92.1,651.8 96.0,650.7 99.8,649.7 103.6,648.7 107.5,647.8 111.3,646.9 115.1,646.1 119.0,645.4 122.8,644.7 126.7,644.0 130.5,643.4 134.3,642.9 138.2,642.4 142.0,641.9 145.8,641.5 149.7,641.2 153.5,641.0"/><path d="M0.0,719.5 3.8,715.3 7.7,711.3 11.5,707.4 15.4,703.6 19.2,700.0 23.0,696.6 26.9,693.3 30.7,690.1 34.5,687.1 38.4,684.2 42.2,681.5 46.1,678.9 49.9,676.4 53.7,674.1 57.6,671.8 61.4,669.7 65.2,667.7 69.1,665.7 72.9,663.9 76.8,662.2 80.6,660.6 84.4,659.0 88.3,657.6 92.1,656.2 96.0,654.9 99.8,653.7 103.6,652.5 107.5,651.4 111.3,650.4 115.1,649.4 119.0,648.5 122.8,647.7 126.7,646.9 130.5,646.1 134.3,645.4 138.2,644.8 142.0,644.2 145.8,643.7 149.7,643.3 153.5,642.9"/><path d="M0.0,642.9 3.8,642.8 7.7,642.7 11.5,643.0 15.4,643.4 19.2,644.3 23.0,645.5 26.9,647.2 30.7,649.4 34.5,652.1 38.4,655.5 42.2,659.3 46.1,663.8 49.9,668.7 53.7,674.1 57.6,679.9 61.4,685.9 65.2,692.2 69.1,698.5 72.9,704.9 76.8,711.3 80.6,717.6 84.4,723.8 88.3,729.9 92.1,735.7 96.0,741.3 99.8,746.8 103.6,752.0 107.5,757.0 111.3,761.8 115.1,766.3 119.0,770.7 122.8,774.8 126.7,778.8 130.5,782.5 134.3,786.0 138.2,789.3 142.0,792.3 145.8,795.2 149.7,797.9 153.5,800.3"/><path d="M0.0,800.3 3.8,802.4 7.7,804.4 11.5,806.1 15.4,807.5 19.2,808.7 23.0,809.6 26.9,810.2 30.7,810.5 34.5,810.5 38.4,810.3 42.2,809.7 46.1,808.8 49.9,807.6 53.7,806.1 57.6,804.3 61.4,802.1 65.2,799.7 69.1,797.0 72.9,794.1 76.8,790.9 80.6,787.4 84.4,783.8 88.3,779.9 92.1,775.9 96.0,771.7 99.8,767.4 103.6,763.0 107.5,758.6 111.3,754.1 115.1,749.6 119.0,745.0 122.8,740.5 126.7,736.1 130.5,731.6 134.3,727.3 138.2,723.1 142.0,718.9 145.8,715.0 149.7,711.1 153.5,707.5"/><path d="M0.0,636.1 3.8,636.1 7.7,636.1 11.5,636.1 15.4,636.1 19.2,636.1 23.0,636.1 26.9,636.2 30.7,636.2 34.5,636.2 38.4,636.2 42.2,636.2 46.1,636.3 49.9,636.3 53.7,636.3 57.6,636.4 61.4,636.4 65.2,636.4 69.1,636.4 72.9,636.5 76.8,636.5 80.6,636.5 84.4,636.6 88.3,636.6 92.1,636.6 96.0,636.7 99.8,636.7 103.6,636.7 107.5,636.7 111.3,636.8 115.1,636.8 119.0,636.8 122.8,636.9 126.7,636.9 130.5,637.0 134.3,637.0 138.2,637.1 142.0,637.1 145.8,637.3 149.7,637.4 153.5,637.6"/><path d="M0.0,637.6 3.8,637.9 7.7,638.4 11.5,639.0 15.4,639.8 19.2,641.0 23.0,642.4 26.9,644.3 30.7,646.7 34.5,649.5 38.4,652.9 42.2,656.8 46.1,661.3 49.9,666.2 53.7,671.6 57.6,677.3 61.4,683.4 65.2,689.7 69.1,696.1 72.9,702.6 76.8,709.1 80.6,715.5 84.4,721.8 88.3,727.9 92.1,733.9 96.0,739.7 99.8,745.2 103.6,750.6 107.5,755.7 111.3,760.7 115.1,765.4 119.0,770.0 122.8,774.3 126.7,778.5 130.5,782.5 134.3,786.3 138.2,790.0 142.0,793.5 145.8,796.9 149.7,800.1 153.5,803.2"/><path d="M0.0,803.2 3.8,806.2 7.7,809.0 11.5,811.7 15.4,814.3 19.2,816.8 23.0,819.2 26.9,821.5 30.7,823.7 34.5,825.8 38.4,827.9 42.2,829.8 46.1,831.6 49.9,833.4 53.7,835.1 57.6,836.8 61.4,838.3 65.2,839.8 69.1,841.2 72.9,842.6 76.8,843.9 80.6,845.2 84.4,846.4 88.3,847.5 92.1,848.6 96.0,849.6 99.8,850.6 103.6,851.5 107.5,852.4 111.3,853.2 115.1,854.0 119.0,854.7 122.8,855.4 126.7,855.9 130.5,856.4 134.3,856.9 138.2,857.2 142.0,857.5 145.8,857.6 149.7,857.7 153.5,857.6"/><path d="M0.0,717.7 3.8,713.5 7.7,709.6 11.5,705.7 15.4,702.1 19.2,698.5 23.0,695.2 26.9,691.9 30.7,688.8 34.5,685.9 38.4,683.1 42.2,680.4 46.1,677.8 49.9,675.4 53.7,673.1 57.6,670.9 61.4,668.9 65.2,666.9 69.1,665.0 72.9,663.3 76.8,661.6 80.6,660.0 84.4,658.5 88.3,657.1 92.1,655.8 96.0,654.5 99.8,653.3 103.6,652.2 107.5,651.1 111.3,650.1 115.1,649.2 119.0,648.3 122.8,647.5 126.7,646.7 130.5,646.0 134.3,645.3 138.2,644.7 142.0,644.1 145.8,643.7 149.7,643.2 153.5,642.9"/><path d="M0.0,642.9 3.8,642.8 7.7,642.8 11.5,643.0 15.4,643.5 19.2,644.3 23.0,645.5 26.9,647.2 30.7,649.4 34.5,652.2 38.4,655.5 42.2,659.3 46.1,663.8 49.9,668.7 53.7,674.1 57.6,679.8 61.4,685.8 65.2,692.1 69.1,698.4 72.9,704.8 76.8,711.2 80.6,717.5 84.4,723.7 88.3,729.8 92.1,735.7 96.0,741.4 99.8,746.8 103.6,752.1 107.5,757.2 111.3,762.0 115.1,766.7 119.0,771.2 122.8,775.4 126.7,779.6 130.5,783.5 134.3,787.3 138.2,790.9 142.0,794.3 145.8,797.7 149.7,800.9 153.5,803.9"/><path d="M0.0,718.1 3.8,714.2 7.7,710.6 11.5,707.4 15.4,704.5 19.2,702.0 23.0,700.0 26.9,698.6 30.7,697.8 34.5,697.7 38.4,698.2 42.2,699.4 46.1,701.3 49.9,703.9 53.7,707.1 57.6,710.8 61.4,714.9 65.2,719.3 69.1,724.0 72.9,728.9 76.8,733.8 80.6,738.8 84.4,743.7 88.3,748.6 92.1,753.4 96.0,758.0 99.8,762.5 103.6,766.8 107.5,770.9 111.3,774.9 115.1,778.7 119.0,782.3 122.8,785.8 126.7,789.1 130.5,792.2 134.3,795.2 138.2,797.9 142.0,800.5 145.8,802.9 149.7,805.1 153.5,807.1"/><path d="M0.0,708.1 3.8,704.6 7.7,701.4 11.5,698.4 15.4,695.9 19.2,693.8 23.0,692.1 26.9,691.0 30.7,690.5 34.5,690.7 38.4,691.5 42.2,693.0 46.1,695.2 49.9,698.1 53.7,701.5 57.6,705.4 61.4,709.7 65.2,714.4 69.1,719.3 72.9,724.4 76.8,729.5 80.6,734.7 84.4,739.8 88.3,744.8 92.1,749.7 96.0,754.5 99.8,759.1 103.6,763.6 107.5,767.9 111.3,772.0 115.1,775.9 119.0,779.7 122.8,783.2 126.7,786.6 130.5,789.9 134.3,792.9 138.2,795.8 142.0,798.4 145.8,800.9 149.7,803.2 153.5,805.3"/><path d="M0.0,805.3 3.8,807.1 7.7,808.8 11.5,810.2 15.4,811.3 19.2,812.3 23.0,812.9 26.9,813.3 30.7,813.5 34.5,813.3 38.4,812.8 42.2,812.1 46.1,811.0 49.9,809.7 53.7,808.0 57.6,806.1 61.4,803.8 65.2,801.3 69.1,798.5 72.9,795.5 76.8,792.2 80.6,788.6 84.4,784.9 88.3,780.9 92.1,776.9 96.0,772.6 99.8,768.3 103.6,763.8 107.5,759.3 111.3,754.8 115.1,750.2 119.0,745.6 122.8,741.1 126.7,736.5 130.5,732.1 134.3,727.7 138.2,723.4 142.0,719.3 145.8,715.3 149.7,711.4 153.5,707.7"/><path d="M0.0,808.9 3.8,811.5 7.7,814.0 11.5,816.4 15.4,818.7 19.2,821.0 23.0,823.1 26.9,825.1 30.7,827.1 34.5,829.0 38.4,830.8 42.2,832.6 46.1,834.2 49.9,835.8 53.7,837.4 57.6,838.9 61.4,840.3 65.2,841.6 69.1,843.0 72.9,844.2 76.8,845.4 80.6,846.6 84.4,847.7 88.3,848.7 92.1,849.7 96.0,850.7 99.8,851.6 103.6,852.5 107.5,853.3 111.3,854.0 115.1,854.7 119.0,855.4 122.8,856.0 126.7,856.5 130.5,857.0 134.3,857.4 138.2,857.7 142.0,857.9 145.8,858.0 149.7,858.0 153.5,857.9"/><path d="M0.0,640.9 3.8,640.5 7.7,640.2 11.5,639.9 15.4,639.6 19.2,639.3 23.0,639.0 26.9,638.8 30.7,638.6 34.5,638.4 38.4,638.2 42.2,638.0 46.1,637.9 49.9,637.7 53.7,637.6 57.6,637.5 61.4,637.4 65.2,637.3 69.1,637.2 72.9,637.1 76.8,637.0 80.6,637.0 84.4,636.9 88.3,636.9 92.1,636.8 96.0,636.8 99.8,636.7 103.6,636.7 107.5,636.7 111.3,636.7 115.1,636.7 119.0,636.6 122.8,636.6 126.7,636.6 130.5,636.6 134.3,636.7 138.2,636.7 142.0,636.7 145.8,636.8 149.7,637.0 153.5,637.2"/><path d="M0.0,707.1 3.8,703.4 7.7,699.9 11.5,696.4 15.4,693.2 19.2,690.0 23.0,687.0 26.9,684.2 30.7,681.4 34.5,678.8 38.4,676.4 42.2,674.0 46.1,671.8 49.9,669.7 53.7,667.7 57.6,665.8 61.4,664.0 65.2,662.3 69.1,660.7 72.9,659.2 76.8,657.7 80.6,656.4 84.4,655.1 88.3,654.0 92.1,652.8 96.0,651.8 99.8,650.8 103.6,649.9 107.5,649.0 111.3,648.2 115.1,647.4 119.0,646.7 122.8,646.0 126.7,645.4 130.5,644.8 134.3,644.3 138.2,643.8 142.0,643.3 145.8,643.0 149.7,642.7 153.5,642.5"/><path d="M0.0,643.0 3.8,642.6 7.7,642.2 11.5,641.7 15.4,641.4 19.2,641.0 23.0,640.7 26.9,640.4 30.7,640.1 34.5,639.8 38.4,639.6 42.2,639.3 46.1,639.1 49.9,638.9 53.7,638.7 57.6,638.6 61.4,638.4 65.2,638.3 69.1,638.1 72.9,638.0 76.8,637.9 80.6,637.8 84.4,637.7 88.3,637.6 92.1,637.5 96.0,637.5 99.8,637.4 103.6,637.3 107.5,637.3 111.3,637.2 115.1,637.2 119.0,637.2 122.8,637.1 126.7,637.1 130.5,637.1 134.3,637.1 138.2,637.1 142.0,637.1 145.8,637.2 149.7,637.3 153.5,637.5"/><path d="M0.0,637.5 3.8,637.8 7.7,638.2 11.5,638.8 15.4,639.6 19.2,640.7 23.0,642.2 26.9,644.1 30.7,646.5 34.5,649.4 38.4,652.8 42.2,656.7 46.1,661.2 49.9,666.2 53.7,671.6 57.6,677.4 61.4,683.5 65.2,689.8 69.1,696.2 72.9,702.7 76.8,709.2 80.6,715.6 84.4,721.9 88.3,728.0 92.1,734.0 96.0,739.7 99.8,745.2 103.6,750.5 107.5,755.6 111.3,760.5 115.1,765.1 119.0,769.5 122.8,773.7 126.7,777.7 130.5,781.5 134.3,785.0 138.2,788.4 142.0,791.5 145.8,794.4 149.7,797.1 153.5,799.6"/><path d="M0.0,637.6 3.8,637.7 7.7,637.7 11.5,637.7 15.4,637.7 19.2,637.8 23.0,637.8 26.9,637.8 30.7,637.9 34.5,637.9 38.4,637.9 42.2,637.9 46.1,638.0 49.9,638.0 53.7,638.0 57.6,638.0 61.4,638.1 65.2,638.1 69.1,638.1 72.9,638.1 76.8,638.2 80.6,638.2 84.4,638.2 88.3,638.2 92.1,638.3 96.0,638.3 99.8,638.3 103.6,638.3 107.5,638.4 111.3,638.4 115.1,638.4 119.0,638.4 122.8,638.4 126.7,638.5 130.5,638.5 134.3,638.5 138.2,638.6 142.0,638.6 145.8,638.7 149.7,638.9 153.5,639.1"/><path d="M0.0,639.1 3.8,639.4 7.7,639.8 11.5,640.3 15.4,641.1 19.2,642.2 23.0,643.6 26.9,645.4 30.7,647.7 34.5,650.4 38.4,653.7 42.2,657.5 46.1,661.8 49.9,666.7 53.7,672.0 57.6,677.6 61.4,683.6 65.2,689.9 69.1,696.2 72.9,702.7 76.8,709.1 80.6,715.5 84.4,721.8 88.3,727.9 92.1,733.8 96.0,739.6 99.8,745.1 103.6,750.4 107.5,755.5 111.3,760.3 115.1,765.0 119.0,769.4 122.8,773.6 126.7,777.6 130.5,781.4 134.3,785.0 138.2,788.3 142.0,791.4 145.8,794.4 149.7,797.0 153.5,799.5"/><path d="M0.0,642.7 3.8,642.4 7.7,642.0 11.5,641.7 15.4,641.4 19.2,641.1 23.0,640.9 26.9,640.7 30.7,640.4 34.5,640.2 38.4,640.0 42.2,639.9 46.1,639.7 49.9,639.5 53.7,639.4 57.6,639.3 61.4,639.2 65.2,639.0 69.1,638.9 72.9,638.9 76.8,638.8 80.6,638.7 84.4,638.6 88.3,638.6 92.1,638.5 96.0,638.4 99.8,638.4 103.6,638.4 107.5,638.3 111.3,638.3 115.1,638.3 119.0,638.2 122.8,638.2 126.7,638.2 130.5,638.2 134.3,638.2 138.2,638.2 142.0,638.1 145.8,638.1 149.7,638.1 153.5,638.1"/><path d="M0.0,638.7 3.8,638.7 7.7,638.8 11.5,638.8 15.4,638.8 19.2,638.8 23.0,638.8 26.9,638.8 30.7,638.9 34.5,638.9 38.4,638.9 42.2,638.9 46.1,638.9 49.9,638.9 53.7,639.0 57.6,639.0 61.4,639.0 65.2,639.0 69.1,639.0 72.9,639.0 76.8,639.1 80.6,639.1 84.4,639.1 88.3,639.1 92.1,639.1 96.0,639.1 99.8,639.1 103.6,639.2 107.5,639.2 111.3,639.2 115.1,639.2 119.0,639.2 122.8,639.2 126.7,639.2 130.5,639.3 134.3,639.3 138.2,639.3 142.0,639.3 145.8,639.3 149.7,639.3 153.5,639.3"/><path d="M0.0,639.8 3.8,639.8 7.7,639.8 11.5,639.8 15.4,639.8 19.2,639.8 23.0,639.8 26.9,639.8 30.7,639.8 34.5,639.8 38.4,639.8 42.2,639.8 46.1,639.8 49.9,639.9 53.7,639.9 57.6,639.9 61.4,639.9 65.2,639.9 69.1,639.9 72.9,639.9 76.8,639.9 80.6,639.9 84.4,639.9 88.3,639.9 92.1,639.9 96.0,639.9 99.8,639.9 103.6,639.9 107.5,640.0 111.3,640.0 115.1,640.0 119.0,640.0 122.8,640.0 126.7,640.0 130.5,640.0 134.3,640.0 138.2,640.1 142.0,640.1 145.8,640.2 149.7,640.3 153.5,640.5"/></g><clipPath id="clip_c"><rect x="109.2" y="545.2" width="605.7" height="393.5"/></clipPath><g id="seg_d"><path d="M0.0,690.1 3.8,691.7 7.7,693.9 11.5,696.7 15.4,700.0 19.2,703.8 23.0,708.0 26.9,712.5 30.7,717.4 34.5,722.4 38.4,727.7 42.2,733.1 46.0,738.6 49.9,744.2 53.7,749.8 57.6,755.3 61.4,760.8 65.2,766.2 69.1,771.5 72.9,776.6 76.8,781.5 80.6,786.2 84.4,790.7 88.3,795.0 92.1,799.0 95.9,802.8 99.8,806.3 103.6,809.6 107.5,812.6 111.3,815.4 115.1,817.9 119.0,820.2 122.8,822.3 126.6,824.2 130.5,825.9 134.3,827.4 138.1,828.7 142.0,829.9 145.8,830.9 149.7,831.8 153.5,832.6"/><path d="M0.0,832.6 3.8,833.3 7.7,833.8 11.5,834.3 15.4,834.8 19.2,835.1 23.0,835.4 26.9,835.7 30.7,835.9 34.5,836.0 38.4,836.2 42.2,836.3 46.0,836.4 49.9,836.4 53.7,836.5 57.6,836.5 61.4,836.5 65.2,836.6 69.1,836.6 72.9,836.6 76.8,836.6 80.6,836.6 84.4,836.6 88.3,836.6 92.1,836.6 95.9,836.5 99.8,836.5 103.6,836.5 107.5,836.5 111.3,836.5 115.1,836.5 119.0,836.5 122.8,836.5 126.6,836.5 130.5,836.4 134.3,836.4 138.1,836.4 142.0,836.4 145.8,836.4 149.7,836.4 153.5,836.4"/><path d="M0.0,836.4 3.8,836.4 7.7,836.4 11.5,836.4 15.4,836.4 19.2,836.3 23.0,836.3 26.9,836.3 30.7,836.3 34.5,836.3 38.4,836.3 42.2,836.3 46.0,836.3 49.9,836.3 53.7,836.3 57.6,836.3 61.4,836.3 65.2,836.3 69.1,836.3 72.9,836.3 76.8,836.3 80.6,836.3 84.4,836.3 88.3,836.3 92.1,836.3 95.9,836.3 99.8,836.3 103.6,836.3 107.5,836.2 111.3,836.2 115.1,836.2 119.0,836.2 122.8,836.2 126.6,836.2 130.5,836.2 134.3,836.2 138.1,836.2 142.0,836.2 145.8,836.2 149.7,836.2 153.5,836.2"/><path d="M0.0,836.0 3.8,835.0 7.7,833.3 11.5,830.9 15.4,827.9 19.2,824.4 23.0,820.3 26.9,815.7 30.7,810.7 34.5,805.4 38.4,799.8 42.2,793.9 46.0,787.9 49.9,781.7 53.7,775.4 57.6,769.2 61.4,762.9 65.2,756.7 69.1,750.6 72.9,744.7 76.8,739.0 80.6,733.5 84.4,728.2 88.3,723.2 92.1,718.4 95.9,714.0 99.8,709.8 103.6,705.9 107.5,702.3 111.3,699.0 115.1,696.0 119.0,693.3 122.8,690.8 126.6,688.6 130.5,686.7 134.3,684.9 138.1,683.4 142.0,682.1 145.8,681.0 149.7,680.1 153.5,679.4"/><path d="M0.0,679.4 3.8,679.6 7.7,680.8 11.5,682.8 15.4,685.6 19.2,689.1 23.0,693.1 26.9,697.7 30.7,702.6 34.5,708.0 38.4,713.6 42.2,719.4 46.0,725.4 49.9,731.4 53.7,737.6 57.6,743.7 61.4,749.7 65.2,755.7 69.1,761.6 72.9,767.2 76.8,772.7 80.6,778.0 84.4,783.1 88.3,787.9 92.1,792.5 95.9,796.7 99.8,800.7 103.6,804.5 107.5,807.9 111.3,811.1 115.1,814.1 119.0,816.7 122.8,819.2 126.6,821.4 130.5,823.4 134.3,825.1 138.1,826.7 142.0,828.1 145.8,829.3 149.7,830.4 153.5,831.4"/><path d="M0.0,831.4 3.8,832.2 7.7,832.9 11.5,833.5 15.4,834.0 19.2,834.5 23.0,834.9 26.9,835.2 30.7,835.5 34.5,835.7 38.4,835.9 42.2,836.0 46.0,836.1 49.9,836.2 53.7,836.3 57.6,836.4 61.4,836.4 65.2,836.4 69.1,836.5 72.9,836.5 76.8,836.5 80.6,836.5 84.4,836.5 88.3,836.5 92.1,836.5 95.9,836.5 99.8,836.5 103.6,836.5 107.5,836.5 111.3,836.5 115.1,836.4 119.0,836.4 122.8,836.4 126.6,836.4 130.5,836.4 134.3,836.4 138.1,836.4 142.0,836.4 145.8,836.4 149.7,836.4 153.5,836.4"/><path d="M0.0,679.3 3.8,678.7 7.7,678.2 11.5,677.8 15.4,677.5 19.2,677.3 23.0,677.2 26.9,677.2 30.7,677.3 34.5,677.4 38.4,677.5 42.2,677.7 46.0,677.9 49.9,678.2 53.7,678.4 57.6,678.7 61.4,679.0 65.2,679.3 69.1,679.6 72.9,680.0 76.8,680.3 80.6,680.6 84.4,680.9 88.3,681.2 92.1,681.5 95.9,681.8 99.8,682.1 103.6,682.4 107.5,682.7 111.3,683.0 115.1,683.2 119.0,683.5 122.8,683.7 126.6,684.0 130.5,684.2 134.3,684.4 138.1,684.6 142.0,684.8 145.8,685.0 149.7,685.2 153.5,685.5"/><path d="M0.0,685.5 3.8,686.4 7.7,688.1 11.5,690.4 15.4,693.3 19.2,696.7 23.0,700.6 26.9,704.9 30.7,709.5 34.5,714.5 38.4,719.7 42.2,725.1 46.0,730.6 49.9,736.3 53.7,742.0 57.6,747.7 61.4,753.3 65.2,759.0 69.1,764.5 72.9,769.8 76.8,775.0 80.6,780.0 84.4,784.9 88.3,789.5 92.1,793.8 95.9,797.9 99.8,801.8 103.6,805.4 107.5,808.8 111.3,811.9 115.1,814.7 119.0,817.3 122.8,819.7 126.6,821.8 130.5,823.8 134.3,825.5 138.1,827.0 142.0,828.4 145.8,829.6 149.7,830.7 153.5,831.6"/><path d="M0.0,831.2 3.8,831.0 7.7,830.0 11.5,828.3 15.4,826.0 19.2,823.0 23.0,819.5 26.9,815.4 30.7,810.9 34.5,806.0 38.4,800.8 42.2,795.3 46.0,789.6 49.9,783.7 53.7,777.7 57.6,771.6 61.4,765.6 65.2,759.6 69.1,753.6 72.9,747.8 76.8,742.2 80.6,736.8 84.4,731.5 88.3,726.5 92.1,721.8 95.9,717.3 99.8,713.1 103.6,709.2 107.5,705.6 111.3,702.3 115.1,699.2 119.0,696.4 122.8,693.9 126.6,691.6 130.5,689.5 134.3,687.7 138.1,686.1 142.0,684.8 145.8,683.6 149.7,682.5 153.5,681.7"/><path d="M0.0,681.7 3.8,681.9 7.7,683.0 11.5,684.9 15.4,687.6 19.2,690.9 23.0,694.8 26.9,699.2 30.7,704.1 34.5,709.3 38.4,714.7 42.2,720.5 46.0,726.3 49.9,732.3 53.7,738.3 57.6,744.4 61.4,750.4 65.2,756.3 69.1,762.0 72.9,767.7 76.8,773.1 80.6,778.4 84.4,783.4 88.3,788.1 92.1,792.7 95.9,796.9 99.8,800.9 103.6,804.6 107.5,808.1 111.3,811.2 115.1,814.2 119.0,816.8 122.8,819.3 126.6,821.4 130.5,823.4 134.3,825.2 138.1,826.8 142.0,828.2 145.8,829.4 149.7,830.5 153.5,831.4"/><path d="M0.0,685.4 3.8,685.6 7.7,685.7 11.5,685.9 15.4,686.0 19.2,686.2 23.0,686.3 26.9,686.4 30.7,686.6 34.5,686.7 38.4,686.8 42.2,686.9 46.0,687.0 49.9,687.1 53.7,687.2 57.6,687.3 61.4,687.3 65.2,687.4 69.1,687.5 72.9,687.6 76.8,687.6 80.6,687.7 84.4,687.8 88.3,687.8 92.1,687.9 95.9,687.9 99.8,688.0 103.6,688.0 107.5,688.1 111.3,688.1 115.1,688.2 119.0,688.2 122.8,688.2 126.6,688.3 130.5,688.3 134.3,688.3 138.1,688.4 142.0,688.4 145.8,688.4 149.7,688.6 153.5,689.6"/><path d="M0.0,832.4 3.8,832.1 7.7,831.0 11.5,829.2 15.4,826.7 19.2,823.7 23.0,820.1 26.9,816.0 30.7,811.5 34.5,806.6 38.4,801.3 42.2,795.8 46.0,790.1 49.9,784.2 53.7,778.2 57.6,772.1 61.4,766.1 65.2,760.0 69.1,754.1 72.9,748.3 76.8,742.7 80.6,737.2 84.4,732.0 88.3,727.0 92.1,722.3 95.9,717.8 99.8,713.6 103.6,709.7 107.5,706.0 111.3,702.7 115.1,699.6 119.0,696.8 122.8,694.3 126.6,692.0 130.5,689.9 134.3,688.1 138.1,686.5 142.0,685.1 145.8,683.9 149.7,682.9 153.5,682.1"/><path d="M0.0,681.7 3.8,681.0 7.7,680.4 11.5,679.9 15.4,679.6 19.2,679.3 23.0,679.1 26.9,679.0 30.7,679.0 34.5,679.0 38.4,679.1 42.2,679.2 46.0,679.3 49.9,679.5 53.7,679.7 57.6,680.0 61.4,680.2 65.2,680.5 69.1,680.7 72.9,681.0 76.8,681.3 80.6,681.5 84.4,681.8 88.3,682.1 92.1,682.4 95.9,682.6 99.8,682.9 103.6,683.1 107.5,683.4 111.3,683.6 115.1,683.9 119.0,684.1 122.8,684.3 126.6,684.5 130.5,684.7 134.3,684.9 138.1,685.1 142.0,685.3 145.8,685.4 149.7,685.6 153.5,685.8"/><path d="M0.0,685.8 3.8,686.0 7.7,686.1 11.5,686.2 15.4,686.4 19.2,686.5 23.0,686.6 26.9,686.7 30.7,686.8 34.5,686.9 38.4,687.0 42.2,687.1 46.0,687.2 49.9,687.3 53.7,687.4 57.6,687.5 61.4,687.5 65.2,687.6 69.1,687.7 72.9,687.7 76.8,687.8 80.6,687.8 84.4,687.9 88.3,688.0 92.1,688.0 95.9,688.0 99.8,688.1 103.6,688.1 107.5,688.2 111.3,688.2 115.1,688.3 119.0,688.3 122.8,688.3 126.6,688.4 130.5,688.4 134.3,688.4 138.1,688.4 142.0,688.5 145.8,688.5 149.7,688.5 153.5,688.5"/><path d="M0.0,688.5 3.8,688.6 7.7,688.6 11.5,688.6 15.4,688.6 19.2,688.6 23.0,688.7 26.9,688.7 30.7,688.7 34.5,688.7 38.4,688.7 42.2,688.7 46.0,688.8 49.9,688.8 53.7,688.8 57.6,688.8 61.4,688.8 65.2,688.8 69.1,688.8 72.9,688.8 76.8,688.8 80.6,688.8 84.4,688.9 88.3,688.9 92.1,688.9 95.9,688.9 99.8,688.9 103.6,688.9 107.5,688.9 111.3,688.9 115.1,688.9 119.0,688.9 122.8,688.9 126.6,688.9 130.5,688.9 134.3,688.9 138.1,688.9 142.0,688.9 145.8,688.9 149.7,688.9 153.5,689.0"/><path d="M0.0,689.0 3.8,689.0 7.7,689.0 11.5,689.0 15.4,689.0 19.2,689.0 23.0,689.0 26.9,689.0 30.7,689.0 34.5,689.0 38.4,689.0 42.2,689.0 46.0,689.0 49.9,689.0 53.7,689.0 57.6,689.0 61.4,689.0 65.2,689.0 69.1,689.0 72.9,689.0 76.8,689.0 80.6,689.0 84.4,689.0 88.3,689.0 92.1,689.0 95.9,689.0 99.8,689.0 103.6,689.0 107.5,689.0 111.3,689.0 115.1,689.0 119.0,689.0 122.8,689.0 126.6,689.0 130.5,689.0 134.3,689.0 138.1,689.0 142.0,689.0 145.8,689.0 149.7,689.2 153.5,690.1"/></g><clipPath id="clip_d"><rect x="865.3" y="543.5" width="605.6" height="393.3"/></clipPath><g id="seg_e"><path d="M0.0,1252.3 3.8,1252.5 7.7,1253.3 11.5,1254.6 15.4,1256.4 19.2,1258.8 23.0,1261.7 26.9,1265.1 30.7,1268.9 34.5,1273.1 38.4,1277.7 42.2,1282.5 46.1,1287.5 49.9,1292.6 53.7,1297.9 57.6,1303.1 61.4,1308.4 65.2,1313.6 69.1,1318.6 72.9,1323.6 76.8,1328.4 80.6,1332.9 84.4,1337.3 88.3,1341.4 92.1,1345.3 96.0,1349.0 99.8,1352.4 103.6,1355.5 107.5,1358.5 111.3,1361.2 115.1,1363.6 119.0,1365.9 122.8,1367.9 126.7,1369.7 130.5,1371.4 134.3,1372.9 138.2,1374.2 142.0,1375.4 145.8,1376.5 149.7,1377.4 153.5,1378.2"/><path d="M0.0,1378.2 3.8,1378.9 7.7,1379.5 11.5,1380.1 15.4,1380.6 19.2,1381.0 23.0,1381.3 26.9,1381.6 30.7,1381.9 34.5,1382.1 38.4,1382.3 42.2,1382.5 46.1,1382.6 49.9,1382.7 53.7,1382.8 57.6,1382.9 61.4,1382.9 65.2,1383.0 69.1,1383.0 72.9,1383.1 76.8,1383.1 80.6,1383.1 84.4,1383.1 88.3,1383.1 92.1,1383.1 96.0,1383.1 99.8,1383.2 103.6,1383.2 107.5,1383.2 111.3,1383.2 115.1,1383.2 119.0,1383.2 122.8,1383.2 126.7,1383.2 130.5,1383.2 134.3,1383.2 138.2,1383.2 142.0,1383.1 145.8,1383.1 149.7,1383.1 153.5,1383.1"/><path d="M0.0,1383.1 3.8,1383.1 7.7,1383.1 11.5,1383.1 15.4,1383.1 19.2,1383.1 23.0,1383.1 26.9,1383.1 30.7,1383.1 34.5,1383.1 38.4,1383.1 42.2,1383.1 46.1,1383.1 49.9,1383.1 53.7,1383.1 57.6,1383.1 61.4,1383.1 65.2,1383.1 69.1,1383.1 72.9,1383.1 76.8,1383.1 80.6,1383.1 84.4,1383.1 88.3,1383.1 92.1,1383.1 96.0,1383.1 99.8,1383.1 103.6,1383.1 107.5,1383.1 111.3,1383.1 115.1,1383.1 119.0,1383.1 122.8,1383.1 126.7,1383.1 130.5,1383.1 134.3,1383.1 138.2,1383.1 142.0,1383.1 145.8,1383.1 149.7,1383.1 153.5,1383.1"/><path d="M0.0,1383.1 3.8,1383.1 7.7,1383.1 11.5,1383.1 15.4,1383.1 19.2,1383.1 23.0,1383.1 26.9,1383.1 30.7,1383.1 34.5,1383.1 38.4,1383.1 42.2,1383.1 46.1,1383.1 49.9,1383.1 53.7,1383.1 57.6,1383.1 61.4,1383.1 65.2,1383.1 69.1,1383.1 72.9,1383.1 76.8,1383.1 80.6,1383.1 84.4,1383.1 88.3,1383.1 92.1,1383.1 96.0,1383.1 99.8,1383.1 103.6,1383.1 107.5,1383.1 111.3,1383.1 115.1,1383.1 119.0,1383.1 122.8,1383.1 126.7,1383.1 130.5,1383.1 134.3,1383.1 138.2,1383.1 142.0,1383.1 145.8,1383.1 149.7,1383.1 153.5,1381.7"/><path d="M0.0,1381.7 3.8,1379.6 7.7,1376.9 11.5,1373.8 15.4,1370.3 19.2,1366.5 23.0,1362.3 26.9,1357.9 30.7,1353.3 34.5,1348.5 38.4,1343.5 42.2,1338.5 46.1,1333.3 49.9,1328.2 53.7,1323.0 57.6,1317.9 61.4,1312.9 65.2,1307.9 69.1,1303.1 72.9,1298.4 76.8,1293.9 80.6,1289.6 84.4,1285.4 88.3,1281.5 92.1,1277.8 96.0,1274.3 99.8,1271.0 103.6,1267.9 107.5,1265.1 111.3,1262.5 115.1,1260.1 119.0,1257.9 122.8,1256.0 126.7,1254.2 130.5,1252.6 134.3,1251.2 138.2,1250.0 142.0,1248.9 145.8,1248.0 149.7,1247.2 153.5,1246.5"/><path d="M0.0,1246.5 3.8,1246.0 7.7,1246.1 11.5,1246.8 15.4,1248.2 19.2,1250.3 23.0,1252.9 26.9,1256.2 30.7,1260.0 34.5,1264.2 38.4,1268.9 42.2,1273.9 46.1,1279.1 49.9,1284.6 53.7,1290.1 57.6,1295.7 61.4,1301.4 65.2,1307.0 69.1,1312.4 72.9,1317.8 76.8,1323.0 80.6,1327.9 84.4,1332.7 88.3,1337.2 92.1,1341.5 96.0,1345.5 99.8,1349.2 103.6,1352.7 107.5,1355.9 111.3,1358.8 115.1,1361.5 119.0,1364.0 122.8,1366.2 126.7,1368.3 130.5,1370.1 134.3,1371.7 138.2,1373.2 142.0,1374.5 145.8,1375.7 149.7,1376.7 153.5,1377.6"/><path d="M0.0,1246.5 3.8,1246.0 7.7,1245.6 11.5,1245.2 15.4,1245.0 19.2,1244.8 23.0,1244.8 26.9,1244.7 30.7,1244.7 34.5,1244.8 38.4,1244.9 42.2,1245.1 46.1,1245.3 49.9,1245.5 53.7,1245.7 57.6,1245.9 61.4,1246.2 65.2,1246.4 69.1,1246.7 72.9,1246.9 76.8,1247.2 80.6,1247.4 84.4,1247.7 88.3,1247.9 92.1,1248.2 96.0,1248.4 99.8,1248.7 103.6,1248.9 107.5,1249.1 111.3,1249.3 115.1,1249.5 119.0,1249.7 122.8,1249.8 126.7,1250.0 130.5,1250.2 134.3,1250.3 138.2,1250.4 142.0,1250.6 145.8,1250.7 149.7,1250.8 153.5,1250.9"/><path d="M0.0,1250.9 3.8,1251.1 7.7,1251.6 11.5,1252.7 15.4,1254.3 19.2,1256.4 23.0,1259.1 26.9,1262.3 30.7,1265.9 34.5,1269.9 38.4,1274.4 42.2,1279.1 46.1,1284.0 49.9,1289.1 53.7,1294.4 57.6,1299.6 61.4,1305.0 65.2,1310.2 69.1,1315.4 72.9,1320.4 76.8,1325.3 80.6,1330.1 84.4,1334.6 88.3,1338.9 92.1,1342.9 96.0,1346.7 99.8,1350.3 103.6,1353.6 107.5,1356.7 111.3,1359.5 115.1,1362.1 119.0,1364.5 122.8,1366.7 126.7,1368.6 130.5,1370.4 134.3,1372.0 138.2,1373.4 142.0,1374.7 145.8,1375.8 149.7,1376.8 153.5,1377.7"/><path d="M0.0,1377.7 3.8,1378.5 7.7,1379.2 11.5,1379.8 15.4,1380.3 19.2,1380.7 23.0,1381.1 26.9,1381.5 30.7,1381.7 34.5,1382.0 38.4,1382.2 42.2,1382.4 46.1,1382.5 49.9,1382.6 53.7,1382.7 57.6,1382.8 61.4,1382.9 65.2,1382.9 69.1,1383.0 72.9,1383.0 76.8,1383.1 80.6,1383.1 84.4,1383.1 88.3,1383.1 92.1,1383.1 96.0,1383.1 99.8,1383.2 103.6,1383.2 107.5,1383.2 111.3,1383.2 115.1,1383.2 119.0,1383.2 122.8,1383.2 126.7,1383.2 130.5,1383.2 134.3,1383.2 138.2,1383.2 142.0,1383.2 145.8,1383.1 149.7,1383.1 153.5,1381.8"/><path d="M0.0,1377.1 3.8,1376.5 7.7,1375.2 11.5,1373.1 15.4,1370.4 19.2,1367.3 23.0,1363.7 26.9,1359.7 30.7,1355.3 34.5,1350.8 38.4,1346.0 42.2,1341.0 46.1,1336.0 49.9,1330.8 53.7,1325.7 57.6,1320.5 61.4,1315.5 65.2,1310.4 69.1,1305.5 72.9,1300.8 76.8,1296.2 80.6,1291.7 84.4,1287.5 88.3,1283.4 92.1,1279.6 96.0,1276.0 99.8,1272.6 103.6,1269.5 107.5,1266.5 111.3,1263.9 115.1,1261.4 119.0,1259.1 122.8,1257.1 126.7,1255.2 130.5,1253.6 134.3,1252.1 138.2,1250.8 142.0,1249.7 145.8,1248.7 149.7,1247.9 153.5,1247.2"/><path d="M0.0,1250.9 3.8,1251.0 7.7,1251.1 11.5,1251.2 15.4,1251.3 19.2,1251.4 23.0,1251.4 26.9,1251.5 30.7,1251.5 34.5,1251.6 38.4,1251.7 42.2,1251.7 46.1,1251.8 49.9,1251.8 53.7,1251.8 57.6,1251.9 61.4,1251.9 65.2,1251.9 69.1,1252.0 72.9,1252.0 76.8,1252.0 80.6,1252.0 84.4,1252.0 88.3,1252.1 92.1,1252.1 96.0,1252.1 99.8,1252.1 103.6,1252.1 107.5,1252.1 111.3,1252.2 115.1,1252.2 119.0,1252.2 122.8,1252.2 126.7,1252.2 130.5,1252.2 134.3,1252.2 138.2,1252.2 142.0,1252.2 145.8,1252.2 149.7,1252.2 153.5,1252.2"/><path d="M0.0,1252.2 3.8,1252.2 7.7,1252.2 11.5,1252.2 15.4,1252.2 19.2,1252.2 23.0,1252.3 26.9,1252.3 30.7,1252.3 34.5,1252.3 38.4,1252.3 42.2,1252.3 46.1,1252.3 49.9,1252.3 53.7,1252.3 57.6,1252.3 61.4,1252.3 65.2,1252.3 69.1,1252.3 72.9,1252.3 76.8,1252.3 80.6,1252.3 84.4,1252.3 88.3,1252.3 92.1,1252.3 96.0,1252.3 99.8,1252.3 103.6,1252.3 107.5,1252.3 111.3,1252.3 115.1,1252.3 119.0,1252.3 122.8,1252.3 126.7,1252.3 130.5,1252.3 134.3,1252.3 138.2,1252.3 142.0,1252.3 145.8,1252.3 149.7,1252.3 153.5,1252.3"/></g><clipPath id="clip_e"><rect x="109.2" y="1085.5" width="605.7" height="393.3"/></clipPath><g id="seg_f"><path d="M0.0,1268.6 3.8,1268.8 7.7,1269.4 11.5,1270.4 15.4,1271.7 19.2,1273.4 23.0,1275.5 26.9,1277.9 30.7,1280.6 34.5,1283.5 38.4,1286.7 42.2,1290.1 46.0,1293.6 49.9,1297.3 53.7,1301.0 57.6,1304.8 61.4,1308.5 65.2,1312.3 69.1,1316.0 72.9,1319.5 76.8,1323.0 80.6,1326.3 84.4,1329.5 88.3,1332.5 92.1,1335.4 95.9,1338.0 99.8,1340.4 103.6,1342.7 107.5,1344.8 111.3,1346.6 115.1,1348.4 119.0,1349.9 122.8,1351.3 126.6,1352.5 130.5,1353.5 134.3,1354.5 138.1,1355.3 142.0,1356.0 145.8,1356.6 149.7,1357.2 153.5,1357.6"/><path d="M0.0,1357.6 3.8,1358.0 7.7,1358.3 11.5,1358.6 15.4,1358.8 19.2,1359.0 23.0,1359.2 26.9,1359.3 30.7,1359.4 34.5,1359.5 38.4,1359.6 42.2,1359.6 46.0,1359.7 49.9,1359.7 53.7,1359.7 57.6,1359.7 61.4,1359.8 65.2,1359.8 69.1,1359.8 72.9,1359.8 76.8,1359.8 80.6,1359.8 84.4,1359.8 88.3,1359.8 92.1,1359.8 95.9,1359.8 99.8,1359.8 103.6,1359.8 107.5,1359.8 111.3,1359.8 115.1,1359.8 119.0,1359.8 122.8,1359.8 126.6,1359.8 130.5,1359.8 134.3,1359.8 138.1,1359.8 142.0,1359.8 145.8,1359.8 149.7,1359.8 153.5,1359.8"/><path d="M0.0,1359.8 3.8,1359.8 7.7,1359.8 11.5,1359.8 15.4,1359.8 19.2,1359.8 23.0,1359.8 26.9,1359.8 30.7,1359.8 34.5,1359.8 38.4,1359.8 42.2,1359.8 46.0,1359.8 49.9,1359.8 53.7,1359.8 57.6,1359.8 61.4,1359.8 65.2,1359.8 69.1,1359.8 72.9,1359.8 76.8,1359.8 80.6,1359.8 84.4,1359.8 88.3,1359.8 92.1,1359.8 95.9,1359.8 99.8,1359.8 103.6,1359.8 107.5,1359.8 111.3,1359.8 115.1,1359.8 119.0,1359.8 122.8,1359.8 126.6,1359.8 130.5,1359.8 134.3,1359.8 138.1,1359.8 142.0,1359.8 145.8,1359.8 149.7,1359.8 153.5,1359.8"/><path d="M0.0,1359.8 3.8,1359.8 7.7,1359.8 11.5,1359.8 15.4,1359.8 19.2,1359.8 23.0,1359.8 26.9,1359.8 30.7,1359.8 34.5,1359.8 38.4,1359.8 42.2,1359.8 46.0,1359.8 49.9,1359.8 53.7,1359.8 57.6,1359.8 61.4,1359.8 65.2,1359.8 69.1,1359.8 72.9,1359.8 76.8,1359.8 80.6,1359.8 84.4,1359.8 88.3,1359.8 92.1,1359.8 95.9,1359.8 99.8,1359.8 103.6,1359.8 107.5,1359.8 111.3,1359.8 115.1,1359.8 119.0,1359.8 122.8,1359.8 126.6,1359.8 130.5,1359.8 134.3,1359.7 138.1,1359.4 142.0,1359.0 145.8,1358.3 149.7,1357.5 153.5,1356.4"/><path d="M0.0,1356.4 3.8,1355.1 7.7,1353.5 11.5,1351.7 15.4,1349.6 19.2,1347.2 23.0,1344.7 26.9,1341.8 30.7,1338.8 34.5,1335.6 38.4,1332.3 42.2,1328.8 46.0,1325.2 49.9,1321.6 53.7,1317.9 57.6,1314.2 61.4,1310.6 65.2,1307.0 69.1,1303.6 72.9,1300.2 76.8,1297.0 80.6,1294.0 84.4,1291.1 88.3,1288.4 92.1,1286.0 95.9,1283.7 99.8,1281.7 103.6,1279.8 107.5,1278.1 111.3,1276.7 115.1,1275.4 119.0,1274.2 122.8,1273.3 126.6,1272.4 130.5,1271.7 134.3,1271.1 138.1,1270.6 142.0,1270.2 145.8,1269.9 149.7,1269.6 153.5,1269.4"/><path d="M0.0,1357.6 3.8,1358.0 7.7,1358.3 11.5,1358.6 15.4,1358.8 19.2,1359.0 23.0,1359.2 26.9,1359.3 30.7,1359.4 34.5,1359.5 38.4,1359.6 42.2,1359.6 46.0,1359.7 49.9,1359.7 53.7,1359.7 57.6,1359.7 61.4,1359.8 65.2,1359.8 69.1,1359.8 72.9,1359.8 76.8,1359.8 80.6,1359.8 84.4,1359.8 88.3,1359.8 92.1,1359.8 95.9,1359.8 99.8,1359.8 103.6,1359.8 107.5,1359.8 111.3,1359.8 115.1,1359.8 119.0,1359.8 122.8,1359.8 126.6,1359.8 130.5,1359.8 134.3,1359.7 138.1,1359.4 142.0,1359.0 145.8,1358.3 149.7,1357.5 153.5,1356.4"/><path d="M0.0,1269.4 3.8,1269.2 7.7,1269.1 11.5,1269.0 15.4,1268.9 19.2,1268.8 23.0,1268.8 26.9,1268.7 30.7,1268.7 34.5,1268.7 38.4,1268.7 42.2,1268.7 46.0,1268.7 49.9,1268.7 53.7,1268.7 57.6,1268.6 61.4,1268.6 65.2,1268.6 69.1,1268.6 72.9,1268.6 76.8,1268.6 80.6,1268.6 84.4,1268.6 88.3,1268.6 92.1,1268.6 95.9,1268.6 99.8,1268.6 103.6,1268.6 107.5,1268.6 111.3,1268.6 115.1,1268.6 119.0,1268.6 122.8,1268.6 126.6,1268.6 130.5,1268.6 134.3,1268.6 138.1,1268.6 142.0,1268.6 145.8,1268.6 149.7,1268.6 153.5,1268.6"/><path d="M0.0,1268.6 3.8,1268.8 7.7,1269.4 11.5,1270.4 15.4,1271.7 19.2,1273.4 23.0,1275.5 26.9,1277.9 30.7,1280.6 34.5,1283.5 38.4,1286.7 42.2,1290.1 46.0,1293.6 49.9,1297.3 53.7,1301.0 57.6,1304.8 61.4,1308.5 65.2,1312.3 69.1,1316.0 72.9,1319.5 76.8,1323.0 80.6,1326.3 84.4,1329.5 88.3,1332.5 92.1,1335.4 95.9,1338.0 99.8,1340.4 103.6,1342.7 107.5,1344.8 111.3,1346.6 115.1,1348.4 119.0,1349.9 122.8,1351.3 126.6,1352.5 130.5,1353.5 134.3,1354.3 138.1,1354.9 142.0,1355.2 145.8,1355.2 149.7,1354.9 153.5,1354.2"/><path d="M0.0,1354.2 3.8,1353.3 7.7,1352.0 11.5,1350.5 15.4,1348.6 19.2,1346.4 23.0,1344.0 26.9,1341.3 30.7,1338.4 34.5,1335.3 38.4,1332.0 42.2,1328.6 46.0,1325.1 49.9,1321.5 53.7,1317.8 57.6,1314.2 61.4,1310.6 65.2,1307.0 69.1,1303.5 72.9,1300.2 76.8,1297.0 80.6,1294.0 84.4,1291.1 88.3,1288.4 92.1,1286.0 95.9,1283.7 99.8,1281.7 103.6,1279.8 107.5,1278.1 111.3,1276.7 115.1,1275.4 119.0,1274.2 122.8,1273.3 126.6,1272.4 130.5,1271.7 134.3,1271.1 138.1,1270.6 142.0,1270.2 145.8,1269.9 149.7,1269.6 153.5,1269.4"/></g><clipPath id="clip_f"><rect x="865.3" y="1089.0" width="605.6" height="393.2"/></clipPath></defs>
<g clip-path="url(#clip_a)" fill="none" stroke="#0000ff" stroke-width="2.20" stroke-linejoin="round"><use href="#seg_a" transform="translate(109.20,0)"/><use href="#seg_a" transform="translate(262.72,0)"/><use href="#seg_a" transform="translate(416.25,0)"/><use href="#seg_a" transform="translate(569.77,0)"/></g>
<path d="M109.2,5.0H723.3V398.0H109.2ZM109.2,385.7h7.0M723.3,385.7h-7.0M109.2,262.9h7.0M723.3,262.9h-7.0M109.2,140.1h7.0M723.3,140.1h-7.0M109.2,17.3h7.0M723.3,17.3h-7.0M262.7,398.0v-7.0M262.7,5.0v7.0M416.2,398.0v-7.0M416.2,5.0v7.0M569.8,398.0v-7.0M569.8,5.0v7.0" fill="none" stroke="#333333" stroke-width="2.1" stroke-linejoin="miter"/>
<g fill="#262626" font-size="34.0"><text x="95.7" y="398.9" text-anchor="end">0</text><text x="95.7" y="276.1" text-anchor="end">0.2</text><text x="95.7" y="153.3" text-anchor="end">0.4</text><text x="95.7" y="30.5" text-anchor="end">0.6</text><text x="108.2" y="445.4" text-anchor="middle">0</text><text x="261.7" y="445.4" text-anchor="middle">20</text><text x="415.2" y="445.4" text-anchor="middle">40</text><text x="568.8" y="445.4" text-anchor="middle">60</text><text x="722.3" y="445.4" text-anchor="middle">80</text></g>
<text x="415.2" y="492.4" text-anchor="middle" font-size="33.5" font-weight="bold" fill="#262626">Time (ps)</text>
<text transform="translate(27.6,200.3) rotate(-90)" text-anchor="middle" font-size="33.5" font-weight="bold" fill="#262626">Normalized power (a.u.)</text>
<text transform="translate(177.0,70.0) scale(0.950,1)" font-size="35.0" fill="#000">(a)</text>
<text transform="translate(226.5,70.0) scale(0.940,1)" font-size="48.0" font-weight="bold" fill="#000000">A</text>
<g clip-path="url(#clip_b)" fill="none" stroke="#0000ff" stroke-width="2.20" stroke-linejoin="round"><use href="#seg_b" transform="translate(867.00,0)"/><use href="#seg_b" transform="translate(1020.50,0)"/><use href="#seg_b" transform="translate(1174.00,0)"/><use href="#seg_b" transform="translate(1327.50,0)"/></g>
<path d="M867.0,3.2H1481.0V396.5H867.0ZM867.0,384.2h7.0M1481.0,384.2h-7.0M867.0,261.3h7.0M1481.0,261.3h-7.0M867.0,138.4h7.0M1481.0,138.4h-7.0M867.0,15.5h7.0M1481.0,15.5h-7.0M1020.5,396.5v-7.0M1020.5,3.2v7.0M1174.0,396.5v-7.0M1174.0,3.2v7.0M1327.5,396.5v-7.0M1327.5,3.2v7.0" fill="none" stroke="#333333" stroke-width="2.1" stroke-linejoin="miter"/>
<g fill="#262626" font-size="34.0"><text x="853.5" y="397.4" text-anchor="end">0</text><text x="853.5" y="274.5" text-anchor="end">0.2</text><text x="853.5" y="151.6" text-anchor="end">0.4</text><text x="853.5" y="28.7" text-anchor="end">0.6</text><text x="866.0" y="443.9" text-anchor="middle">0</text><text x="1019.5" y="443.9" text-anchor="middle">20</text><text x="1173.0" y="443.9" text-anchor="middle">40</text><text x="1326.5" y="443.9" text-anchor="middle">60</text><text x="1480.0" y="443.9" text-anchor="middle">80</text></g>
<text x="1173.0" y="490.9" text-anchor="middle" font-size="33.5" font-weight="bold" fill="#262626">Time (ps)</text>
<text transform="translate(785.4,198.7) rotate(-90)" text-anchor="middle" font-size="33.5" font-weight="bold" fill="#262626">Normalized power (a.u.)</text>
<text transform="translate(897.0,69.0) scale(0.950,1)" font-size="35.0" fill="#000">(b)</text>
<text transform="translate(953.0,69.7) scale(0.940,1)" font-size="48.0" font-weight="bold" fill="#0000ff">B</text>
<g clip-path="url(#clip_c)" fill="none" stroke="#0000ff" stroke-width="2.20" stroke-linejoin="round"><use href="#seg_c" transform="translate(109.20,0)"/><use href="#seg_c" transform="translate(262.72,0)"/><use href="#seg_c" transform="translate(416.25,0)"/><use href="#seg_c" transform="translate(569.77,0)"/></g>
<path d="M109.2,545.2H723.3V938.7H109.2ZM109.2,926.4h7.0M723.3,926.4h-7.0M109.2,803.4h7.0M723.3,803.4h-7.0M109.2,680.5h7.0M723.3,680.5h-7.0M109.2,557.5h7.0M723.3,557.5h-7.0M262.7,938.7v-7.0M262.7,545.2v7.0M416.2,938.7v-7.0M416.2,545.2v7.0M569.8,938.7v-7.0M569.8,545.2v7.0" fill="none" stroke="#333333" stroke-width="2.1" stroke-linejoin="miter"/>
<g fill="#262626" font-size="34.0"><text x="95.7" y="939.6" text-anchor="end">0</text><text x="95.7" y="816.6" text-anchor="end">0.2</text><text x="95.7" y="693.7" text-anchor="end">0.4</text><text x="95.7" y="570.7" text-anchor="end">0.6</text><text x="108.2" y="986.1" text-anchor="middle">0</text><text x="261.7" y="986.1" text-anchor="middle">20</text><text x="415.2" y="986.1" text-anchor="middle">40</text><text x="568.8" y="986.1" text-anchor="middle">60</text><text x="722.3" y="986.1" text-anchor="middle">80</text></g>
<text x="415.2" y="1033.1" text-anchor="middle" font-size="33.5" font-weight="bold" fill="#262626">Time (ps)</text>
<text transform="translate(27.6,740.8) rotate(-90)" text-anchor="middle" font-size="33.5" font-weight="bold" fill="#262626">Normalized power (a.u.)</text>
<text transform="translate(181.5,599.2) scale(0.950,1)" font-size="35.0" fill="#000">(c)</text>
<text transform="translate(232.8,599.2) scale(0.940,1)" font-size="48.0" font-weight="bold" fill="#0000ff">C</text>
<g clip-path="url(#clip_d)" fill="none" stroke="#0000ff" stroke-width="2.20" stroke-linejoin="round"><use href="#seg_d" transform="translate(865.30,0)"/><use href="#seg_d" transform="translate(1018.80,0)"/><use href="#seg_d" transform="translate(1172.30,0)"/><use href="#seg_d" transform="translate(1325.80,0)"/></g>
<path d="M865.3,543.5H1479.3V936.8H865.3ZM865.3,924.5h7.0M1479.3,924.5h-7.0M865.3,801.6h7.0M1479.3,801.6h-7.0M865.3,678.7h7.0M1479.3,678.7h-7.0M865.3,555.8h7.0M1479.3,555.8h-7.0M1018.8,936.8v-7.0M1018.8,543.5v7.0M1172.3,936.8v-7.0M1172.3,543.5v7.0M1325.8,936.8v-7.0M1325.8,543.5v7.0" fill="none" stroke="#333333" stroke-width="2.1" stroke-linejoin="miter"/>
<g fill="#262626" font-size="34.0"><text x="851.8" y="937.7" text-anchor="end">0</text><text x="851.8" y="814.8" text-anchor="end">0.2</text><text x="851.8" y="691.9" text-anchor="end">0.4</text><text x="851.8" y="569.0" text-anchor="end">0.6</text><text x="864.3" y="984.2" text-anchor="middle">0</text><text x="1017.8" y="984.2" text-anchor="middle">20</text><text x="1171.3" y="984.2" text-anchor="middle">40</text><text x="1324.8" y="984.2" text-anchor="middle">60</text><text x="1478.3" y="984.2" text-anchor="middle">80</text></g>
<text x="1171.3" y="1031.2" text-anchor="middle" font-size="33.5" font-weight="bold" fill="#262626">Time (ps)</text>
<text transform="translate(783.7,738.9) rotate(-90)" text-anchor="middle" font-size="33.5" font-weight="bold" fill="#262626">Normalized power (a.u.)</text>
<text transform="translate(928.0,599.5) scale(0.950,1)" font-size="35.0" fill="#000">(d)</text>
<text transform="translate(982.5,598.7) scale(1.000,1)" font-size="46.0" font-weight="bold" fill="#ff0000">b</text>
<g clip-path="url(#clip_e)" fill="none" stroke="#0000ff" stroke-width="2.20" stroke-linejoin="round"><use href="#seg_e" transform="translate(109.20,0)"/><use href="#seg_e" transform="translate(262.72,0)"/><use href="#seg_e" transform="translate(416.25,0)"/><use href="#seg_e" transform="translate(569.77,0)"/></g>
<path d="M109.2,1085.5H723.3V1478.8H109.2ZM109.2,1466.5h7.0M723.3,1466.5h-7.0M109.2,1343.6h7.0M723.3,1343.6h-7.0M109.2,1220.7h7.0M723.3,1220.7h-7.0M109.2,1097.8h7.0M723.3,1097.8h-7.0M262.7,1478.8v-7.0M262.7,1085.5v7.0M416.2,1478.8v-7.0M416.2,1085.5v7.0M569.8,1478.8v-7.0M569.8,1085.5v7.0" fill="none" stroke="#333333" stroke-width="2.1" stroke-linejoin="miter"/>
<g fill="#262626" font-size="34.0"><text x="95.7" y="1479.7" text-anchor="end">0</text><text x="95.7" y="1356.8" text-anchor="end">0.2</text><text x="95.7" y="1233.9" text-anchor="end">0.4</text><text x="95.7" y="1111.0" text-anchor="end">0.6</text><text x="108.2" y="1526.2" text-anchor="middle">0</text><text x="261.7" y="1526.2" text-anchor="middle">20</text><text x="415.2" y="1526.2" text-anchor="middle">40</text><text x="568.8" y="1526.2" text-anchor="middle">60</text><text x="722.3" y="1526.2" text-anchor="middle">80</text></g>
<text x="415.2" y="1573.2" text-anchor="middle" font-size="33.5" font-weight="bold" fill="#262626">Time (ps)</text>
<text transform="translate(27.6,1281.0) rotate(-90)" text-anchor="middle" font-size="33.5" font-weight="bold" fill="#262626">Normalized power (a.u.)</text>
<text transform="translate(178.0,1143.5) scale(0.950,1)" font-size="35.0" fill="#000">(e)</text>
<text transform="translate(230.9,1143.5) scale(1.000,1)" font-size="46.0" font-weight="bold" fill="#ff0000">c</text>
<g clip-path="url(#clip_f)" fill="none" stroke="#0000ff" stroke-width="2.20" stroke-linejoin="round"><use href="#seg_f" transform="translate(865.30,0)"/><use href="#seg_f" transform="translate(1018.80,0)"/><use href="#seg_f" transform="translate(1172.30,0)"/><use href="#seg_f" transform="translate(1325.80,0)"/></g>
<path d="M865.3,1089.0H1479.3V1482.2H865.3ZM865.3,1469.9h7.0M1479.3,1469.9h-7.0M865.3,1347.0h7.0M1479.3,1347.0h-7.0M865.3,1224.2h7.0M1479.3,1224.2h-7.0M865.3,1101.3h7.0M1479.3,1101.3h-7.0M1018.8,1482.2v-7.0M1018.8,1089.0v7.0M1172.3,1482.2v-7.0M1172.3,1089.0v7.0M1325.8,1482.2v-7.0M1325.8,1089.0v7.0" fill="none" stroke="#333333" stroke-width="2.1" stroke-linejoin="miter"/>
<g fill="#262626" font-size="34.0"><text x="851.8" y="1483.1" text-anchor="end">0</text><text x="851.8" y="1360.2" text-anchor="end">0.2</text><text x="851.8" y="1237.4" text-anchor="end">0.4</text><text x="851.8" y="1114.5" text-anchor="end">0.6</text><text x="864.3" y="1529.6" text-anchor="middle">0</text><text x="1017.8" y="1529.6" text-anchor="middle">20</text><text x="1171.3" y="1529.6" text-anchor="middle">40</text><text x="1324.8" y="1529.6" text-anchor="middle">60</text><text x="1478.3" y="1529.6" text-anchor="middle">80</text></g>
<text x="1171.3" y="1576.6" text-anchor="middle" font-size="33.5" font-weight="bold" fill="#262626">Time (ps)</text>
<text transform="translate(783.7,1284.4) rotate(-90)" text-anchor="middle" font-size="33.5" font-weight="bold" fill="#262626">Normalized power (a.u.)</text>
<text transform="translate(905.3,1143.5) scale(0.950,1)" font-size="35.0" fill="#000">(f)</text>
<text transform="translate(953.3,1143.5) scale(1.000,1)" font-size="46.0" font-weight="bold" fill="#ff0000">d</text>
</svg></body></html>
